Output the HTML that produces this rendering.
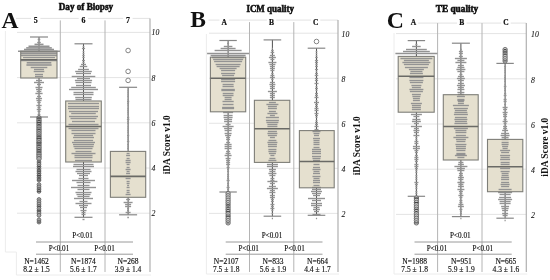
<!DOCTYPE html>
<html><head><meta charset="utf-8"><title>iDA Score</title>
<style>
html,body{margin:0;padding:0;background:#fff;}
body{width:550px;height:280px;overflow:hidden;}
svg{display:block;}
svg text{font-family:'Liberation Serif', 'Times New Roman', serif;fill:#111;}
</style></head><body>
<svg width="550" height="280" viewBox="0 0 550 280">
<rect width="550" height="280" fill="#fff"/>
<polyline points="5.4,31 5.4,252 16.4,252 16.4,275 151,275" fill="none" stroke="#ececec" stroke-width="1"/>
<line x1="17" y1="32.4" x2="150" y2="32.4" stroke="#e4e4e4" stroke-width="1" />
<line x1="17" y1="77.6" x2="150" y2="77.6" stroke="#e4e4e4" stroke-width="1" />
<line x1="17" y1="122.80000000000001" x2="150" y2="122.80000000000001" stroke="#e4e4e4" stroke-width="1" />
<line x1="17" y1="168.00000000000003" x2="150" y2="168.00000000000003" stroke="#e4e4e4" stroke-width="1" />
<line x1="17" y1="213.20000000000002" x2="150" y2="213.20000000000002" stroke="#e4e4e4" stroke-width="1" />
<line x1="16" y1="18.4" x2="150" y2="18.4" stroke="#e2e2e2" stroke-width="1" />
<line x1="60.3" y1="20.4" x2="60.3" y2="272" stroke="#b4b4b4" stroke-width="1" />
<line x1="105" y1="20.4" x2="105" y2="272" stroke="#b4b4b4" stroke-width="1" />
<line x1="150" y1="18.4" x2="150" y2="272" stroke="#b0b0b0" stroke-width="1.2" />
<rect x="20.7" y="51.2" width="36.3" height="26.799999999999997" fill="#e5e0cf" stroke="none"/>
<line x1="39.0" y1="37" x2="39.0" y2="51.2" stroke="#505050" stroke-width="1" />
<line x1="39.0" y1="78" x2="39.0" y2="117" stroke="#505050" stroke-width="1" />
<line x1="37.70" y1="39.50" x2="40.30" y2="39.50" stroke="#939393" stroke-width="1.4"/>
<line x1="37.20" y1="42.50" x2="40.80" y2="42.50" stroke="#939393" stroke-width="1.4"/>
<line x1="34.50" y1="44.40" x2="43.50" y2="44.40" stroke="#939393" stroke-width="1.6"/>
<line x1="28.50" y1="46.30" x2="49.50" y2="46.30" stroke="#939393" stroke-width="1.6"/>
<line x1="26.20" y1="47.90" x2="51.80" y2="47.90" stroke="#939393" stroke-width="1.6"/>
<line x1="24.00" y1="49.50" x2="54.00" y2="49.50" stroke="#939393" stroke-width="1.6"/>
<line x1="18.00" y1="51.30" x2="60.00" y2="51.30" stroke="#939393" stroke-width="1.6"/>
<line x1="21.00" y1="53.20" x2="57.00" y2="53.20" stroke="#939393" stroke-width="1.8"/>
<line x1="21.00" y1="55.40" x2="57.00" y2="55.40" stroke="#939393" stroke-width="1.8"/>
<line x1="23.00" y1="57.60" x2="55.00" y2="57.60" stroke="#939393" stroke-width="1.2"/>
<line x1="21.00" y1="60.50" x2="57.00" y2="60.50" stroke="#939393" stroke-width="1.4"/>
<line x1="26.70" y1="62.80" x2="51.30" y2="62.80" stroke="#939393" stroke-width="1.6"/>
<line x1="26.40" y1="65.00" x2="51.60" y2="65.00" stroke="#939393" stroke-width="1.6"/>
<line x1="30.70" y1="67.50" x2="47.30" y2="67.50" stroke="#939393" stroke-width="1.4"/>
<line x1="34.00" y1="69.50" x2="44.00" y2="69.50" stroke="#939393" stroke-width="1.4"/>
<line x1="33.70" y1="71.50" x2="44.30" y2="71.50" stroke="#939393" stroke-width="1.4"/>
<line x1="35.00" y1="74.50" x2="43.00" y2="74.50" stroke="#939393" stroke-width="1.4"/>
<line x1="35.00" y1="76.50" x2="43.00" y2="76.50" stroke="#939393" stroke-width="1.4"/>
<line x1="36.00" y1="80.50" x2="42.00" y2="80.50" stroke="#939393" stroke-width="1.4"/>
<line x1="34.00" y1="82.50" x2="44.00" y2="82.50" stroke="#939393" stroke-width="1.4"/>
<line x1="37.00" y1="84.50" x2="41.00" y2="84.50" stroke="#939393" stroke-width="1.4"/>
<line x1="35.50" y1="87.50" x2="42.50" y2="87.50" stroke="#939393" stroke-width="1.4"/>
<line x1="36.09" y1="89.50" x2="41.91" y2="89.50" stroke="#939393" stroke-width="1.4"/>
<line x1="36.67" y1="91.50" x2="41.33" y2="91.50" stroke="#939393" stroke-width="1.4"/>
<line x1="35.41" y1="93.50" x2="42.59" y2="93.50" stroke="#939393" stroke-width="1.4"/>
<line x1="37.04" y1="96.50" x2="40.96" y2="96.50" stroke="#939393" stroke-width="1.4"/>
<line x1="35.96" y1="98.50" x2="42.04" y2="98.50" stroke="#939393" stroke-width="1.4"/>
<line x1="36.49" y1="100.50" x2="41.51" y2="100.50" stroke="#939393" stroke-width="1.4"/>
<line x1="37.29" y1="102.50" x2="40.71" y2="102.50" stroke="#939393" stroke-width="1.4"/>
<line x1="36.38" y1="105.50" x2="41.62" y2="105.50" stroke="#939393" stroke-width="1.4"/>
<line x1="37.48" y1="107.50" x2="40.52" y2="107.50" stroke="#939393" stroke-width="1.4"/>
<line x1="36.76" y1="109.50" x2="41.24" y2="109.50" stroke="#939393" stroke-width="1.4"/>
<line x1="37.56" y1="111.50" x2="40.44" y2="111.50" stroke="#939393" stroke-width="1.4"/>
<line x1="37.60" y1="114.50" x2="40.40" y2="114.50" stroke="#939393" stroke-width="1.4"/>
<rect x="20.7" y="51.2" width="36.3" height="26.799999999999997" fill="none" stroke="#7e7e78" stroke-width="1.1"/>
<line x1="20.7" y1="59.8" x2="57" y2="59.8" stroke="#6a6a66" stroke-width="1.6" />
<line x1="30.0" y1="37" x2="48.0" y2="37" stroke="#878787" stroke-width="1.2" />
<line x1="30.0" y1="117" x2="48.0" y2="117" stroke="#878787" stroke-width="1.2" />
<circle cx="39.0" cy="118.00" r="2.3" fill="#a8a8a8" stroke="#5a5a5a" stroke-width="0.8"/>
<circle cx="39.0" cy="120.26" r="2.3" fill="#a8a8a8" stroke="#5a5a5a" stroke-width="0.8"/>
<circle cx="39.0" cy="122.52" r="2.3" fill="#a8a8a8" stroke="#5a5a5a" stroke-width="0.8"/>
<circle cx="39.0" cy="124.78" r="2.3" fill="#a8a8a8" stroke="#5a5a5a" stroke-width="0.8"/>
<circle cx="39.0" cy="127.04" r="2.3" fill="#a8a8a8" stroke="#5a5a5a" stroke-width="0.8"/>
<circle cx="39.0" cy="129.30" r="2.3" fill="#a8a8a8" stroke="#5a5a5a" stroke-width="0.8"/>
<circle cx="39.0" cy="131.56" r="2.3" fill="#a8a8a8" stroke="#5a5a5a" stroke-width="0.8"/>
<circle cx="39.0" cy="133.82" r="2.3" fill="#a8a8a8" stroke="#5a5a5a" stroke-width="0.8"/>
<circle cx="39.0" cy="136.08" r="2.3" fill="#a8a8a8" stroke="#5a5a5a" stroke-width="0.8"/>
<circle cx="39.0" cy="138.34" r="2.3" fill="#a8a8a8" stroke="#5a5a5a" stroke-width="0.8"/>
<circle cx="39.0" cy="140.60" r="2.3" fill="#a8a8a8" stroke="#5a5a5a" stroke-width="0.8"/>
<circle cx="39.0" cy="142.86" r="2.3" fill="#a8a8a8" stroke="#5a5a5a" stroke-width="0.8"/>
<circle cx="39.0" cy="145.12" r="2.3" fill="#a8a8a8" stroke="#5a5a5a" stroke-width="0.8"/>
<circle cx="39.0" cy="147.38" r="2.3" fill="#a8a8a8" stroke="#5a5a5a" stroke-width="0.8"/>
<circle cx="39.0" cy="149.64" r="2.3" fill="#a8a8a8" stroke="#5a5a5a" stroke-width="0.8"/>
<circle cx="39.0" cy="151.90" r="2.3" fill="#a8a8a8" stroke="#5a5a5a" stroke-width="0.8"/>
<circle cx="39.0" cy="154.16" r="2.3" fill="#a8a8a8" stroke="#5a5a5a" stroke-width="0.8"/>
<circle cx="39.0" cy="156.42" r="2.3" fill="#a8a8a8" stroke="#5a5a5a" stroke-width="0.8"/>
<circle cx="39.0" cy="158.68" r="2.3" fill="#a8a8a8" stroke="#5a5a5a" stroke-width="0.8"/>
<line x1="37.29" y1="118.00" x2="40.71" y2="118.00" stroke="#444" stroke-width="1"/>
<line x1="37.92" y1="120.26" x2="40.08" y2="120.26" stroke="#444" stroke-width="1"/>
<line x1="37.12" y1="122.52" x2="40.88" y2="122.52" stroke="#444" stroke-width="1"/>
<line x1="37.59" y1="124.78" x2="40.41" y2="124.78" stroke="#444" stroke-width="1"/>
<line x1="37.61" y1="129.30" x2="40.39" y2="129.30" stroke="#444" stroke-width="1"/>
<line x1="37.25" y1="136.08" x2="40.75" y2="136.08" stroke="#444" stroke-width="1"/>
<line x1="36.86" y1="138.34" x2="41.14" y2="138.34" stroke="#444" stroke-width="1"/>
<line x1="36.73" y1="142.86" x2="41.27" y2="142.86" stroke="#444" stroke-width="1"/>
<line x1="37.46" y1="145.12" x2="40.54" y2="145.12" stroke="#444" stroke-width="1"/>
<line x1="37.36" y1="149.64" x2="40.64" y2="149.64" stroke="#444" stroke-width="1"/>
<line x1="37.13" y1="151.90" x2="40.87" y2="151.90" stroke="#444" stroke-width="1"/>
<circle cx="39.0" cy="162.00" r="1.9" fill="#a8a8a8" stroke="#5a5a5a" stroke-width="0.8"/>
<circle cx="39.0" cy="164.26" r="1.9" fill="#a8a8a8" stroke="#5a5a5a" stroke-width="0.8"/>
<circle cx="39.0" cy="166.52" r="1.9" fill="#a8a8a8" stroke="#5a5a5a" stroke-width="0.8"/>
<circle cx="39.0" cy="168.78" r="1.9" fill="#a8a8a8" stroke="#5a5a5a" stroke-width="0.8"/>
<circle cx="39.0" cy="171.04" r="1.9" fill="#a8a8a8" stroke="#5a5a5a" stroke-width="0.8"/>
<circle cx="39.0" cy="173.30" r="1.9" fill="#a8a8a8" stroke="#5a5a5a" stroke-width="0.8"/>
<circle cx="39.0" cy="175.56" r="1.9" fill="#a8a8a8" stroke="#5a5a5a" stroke-width="0.8"/>
<circle cx="39.0" cy="177.82" r="1.9" fill="#a8a8a8" stroke="#5a5a5a" stroke-width="0.8"/>
<circle cx="39.0" cy="180.08" r="1.9" fill="#a8a8a8" stroke="#5a5a5a" stroke-width="0.8"/>
<circle cx="39.0" cy="184.60" r="1.9" fill="#a8a8a8" stroke="#5a5a5a" stroke-width="0.8"/>
<circle cx="39.0" cy="186.86" r="1.9" fill="#a8a8a8" stroke="#5a5a5a" stroke-width="0.8"/>
<circle cx="39.0" cy="189.12" r="1.9" fill="#a8a8a8" stroke="#5a5a5a" stroke-width="0.8"/>
<circle cx="39.0" cy="191.38" r="1.9" fill="#a8a8a8" stroke="#5a5a5a" stroke-width="0.8"/>
<line x1="37.65" y1="162.00" x2="40.35" y2="162.00" stroke="#444" stroke-width="1"/>
<line x1="37.58" y1="166.52" x2="40.42" y2="166.52" stroke="#444" stroke-width="1"/>
<line x1="37.89" y1="168.78" x2="40.11" y2="168.78" stroke="#444" stroke-width="1"/>
<line x1="37.31" y1="171.04" x2="40.69" y2="171.04" stroke="#444" stroke-width="1"/>
<line x1="37.78" y1="173.30" x2="40.22" y2="173.30" stroke="#444" stroke-width="1"/>
<line x1="37.22" y1="175.56" x2="40.78" y2="175.56" stroke="#444" stroke-width="1"/>
<line x1="37.60" y1="177.82" x2="40.40" y2="177.82" stroke="#444" stroke-width="1"/>
<line x1="37.20" y1="180.08" x2="40.80" y2="180.08" stroke="#444" stroke-width="1"/>
<line x1="37.63" y1="189.12" x2="40.37" y2="189.12" stroke="#444" stroke-width="1"/>
<line x1="37.20" y1="191.38" x2="40.80" y2="191.38" stroke="#444" stroke-width="1"/>
<circle cx="39.0" cy="199.50" r="1.9" fill="#a8a8a8" stroke="#5a5a5a" stroke-width="0.8"/>
<circle cx="39.0" cy="201.76" r="1.9" fill="#a8a8a8" stroke="#5a5a5a" stroke-width="0.8"/>
<circle cx="39.0" cy="204.02" r="1.9" fill="#a8a8a8" stroke="#5a5a5a" stroke-width="0.8"/>
<circle cx="39.0" cy="206.28" r="1.9" fill="#a8a8a8" stroke="#5a5a5a" stroke-width="0.8"/>
<circle cx="39.0" cy="208.54" r="1.9" fill="#a8a8a8" stroke="#5a5a5a" stroke-width="0.8"/>
<circle cx="39.0" cy="210.80" r="1.9" fill="#a8a8a8" stroke="#5a5a5a" stroke-width="0.8"/>
<circle cx="39.0" cy="213.06" r="1.9" fill="#a8a8a8" stroke="#5a5a5a" stroke-width="0.8"/>
<circle cx="39.0" cy="215.32" r="1.9" fill="#a8a8a8" stroke="#5a5a5a" stroke-width="0.8"/>
<circle cx="39.0" cy="219.84" r="1.9" fill="#a8a8a8" stroke="#5a5a5a" stroke-width="0.8"/>
<circle cx="39.0" cy="222.10" r="1.9" fill="#a8a8a8" stroke="#5a5a5a" stroke-width="0.8"/>
<line x1="37.44" y1="206.28" x2="40.56" y2="206.28" stroke="#444" stroke-width="1"/>
<line x1="37.19" y1="210.80" x2="40.81" y2="210.80" stroke="#444" stroke-width="1"/>
<line x1="37.64" y1="222.10" x2="40.36" y2="222.10" stroke="#444" stroke-width="1"/>
<rect x="65.7" y="101" width="35.599999999999994" height="61" fill="#e5e0cf" stroke="none"/>
<line x1="83.5" y1="43.8" x2="83.5" y2="101" stroke="#505050" stroke-width="1" />
<line x1="83.5" y1="162" x2="83.5" y2="217.3" stroke="#505050" stroke-width="1" />
<line x1="81.00" y1="64.50" x2="86.00" y2="64.50" stroke="#939393" stroke-width="1.4"/>
<line x1="79.75" y1="66.50" x2="87.25" y2="66.50" stroke="#939393" stroke-width="1.4"/>
<line x1="78.10" y1="69.50" x2="88.90" y2="69.50" stroke="#939393" stroke-width="1.4"/>
<line x1="75.20" y1="71.50" x2="91.80" y2="71.50" stroke="#939393" stroke-width="1.4"/>
<line x1="76.00" y1="73.50" x2="91.00" y2="73.50" stroke="#939393" stroke-width="1.4"/>
<line x1="71.70" y1="76.50" x2="95.30" y2="76.50" stroke="#939393" stroke-width="1.4"/>
<line x1="77.00" y1="78.50" x2="90.00" y2="78.50" stroke="#939393" stroke-width="1.4"/>
<line x1="74.90" y1="80.50" x2="92.10" y2="80.50" stroke="#939393" stroke-width="1.4"/>
<line x1="75.50" y1="82.50" x2="91.50" y2="82.50" stroke="#939393" stroke-width="1.4"/>
<line x1="76.00" y1="85.50" x2="91.00" y2="85.50" stroke="#939393" stroke-width="1.4"/>
<line x1="71.20" y1="87.50" x2="95.80" y2="87.50" stroke="#939393" stroke-width="1.4"/>
<line x1="69.00" y1="89.50" x2="98.00" y2="89.50" stroke="#939393" stroke-width="1.4"/>
<line x1="73.50" y1="92.50" x2="93.50" y2="92.50" stroke="#939393" stroke-width="1.4"/>
<line x1="73.50" y1="94.50" x2="93.50" y2="94.50" stroke="#939393" stroke-width="1.4"/>
<line x1="75.20" y1="97.50" x2="91.80" y2="97.50" stroke="#939393" stroke-width="1.4"/>
<line x1="75.50" y1="99.50" x2="91.50" y2="99.50" stroke="#939393" stroke-width="1.4"/>
<line x1="68.00" y1="103.50" x2="99.00" y2="103.50" stroke="#939393" stroke-width="1.4"/>
<line x1="68.00" y1="106.50" x2="99.00" y2="106.50" stroke="#939393" stroke-width="1.4"/>
<line x1="68.00" y1="108.50" x2="99.00" y2="108.50" stroke="#939393" stroke-width="1.4"/>
<line x1="69.00" y1="111.50" x2="98.00" y2="111.50" stroke="#939393" stroke-width="1.4"/>
<line x1="71.20" y1="113.50" x2="95.80" y2="113.50" stroke="#939393" stroke-width="1.4"/>
<line x1="69.00" y1="116.50" x2="98.00" y2="116.50" stroke="#939393" stroke-width="1.4"/>
<line x1="70.50" y1="118.50" x2="96.50" y2="118.50" stroke="#939393" stroke-width="1.4"/>
<line x1="72.00" y1="121.50" x2="95.00" y2="121.50" stroke="#939393" stroke-width="1.4"/>
<line x1="68.50" y1="124.50" x2="98.50" y2="124.50" stroke="#939393" stroke-width="1.4"/>
<line x1="68.50" y1="128.50" x2="98.50" y2="128.50" stroke="#939393" stroke-width="1.4"/>
<line x1="71.50" y1="130.50" x2="95.50" y2="130.50" stroke="#939393" stroke-width="1.4"/>
<line x1="71.50" y1="133.50" x2="95.50" y2="133.50" stroke="#939393" stroke-width="1.4"/>
<line x1="73.90" y1="135.50" x2="93.10" y2="135.50" stroke="#939393" stroke-width="1.4"/>
<line x1="73.00" y1="137.50" x2="94.00" y2="137.50" stroke="#939393" stroke-width="1.4"/>
<line x1="73.90" y1="140.50" x2="93.10" y2="140.50" stroke="#939393" stroke-width="1.4"/>
<line x1="72.00" y1="142.50" x2="95.00" y2="142.50" stroke="#939393" stroke-width="1.4"/>
<line x1="73.00" y1="144.50" x2="94.00" y2="144.50" stroke="#939393" stroke-width="1.4"/>
<line x1="73.50" y1="146.50" x2="93.50" y2="146.50" stroke="#939393" stroke-width="1.4"/>
<line x1="74.50" y1="148.50" x2="92.50" y2="148.50" stroke="#939393" stroke-width="1.4"/>
<line x1="75.50" y1="151.50" x2="91.50" y2="151.50" stroke="#939393" stroke-width="1.4"/>
<line x1="71.50" y1="153.50" x2="95.50" y2="153.50" stroke="#939393" stroke-width="1.4"/>
<line x1="74.50" y1="155.50" x2="92.50" y2="155.50" stroke="#939393" stroke-width="1.4"/>
<line x1="74.50" y1="157.50" x2="92.50" y2="157.50" stroke="#939393" stroke-width="1.4"/>
<line x1="75.00" y1="160.50" x2="92.00" y2="160.50" stroke="#939393" stroke-width="1.4"/>
<line x1="73.50" y1="164.50" x2="93.50" y2="164.50" stroke="#939393" stroke-width="1.4"/>
<line x1="73.00" y1="166.50" x2="94.00" y2="166.50" stroke="#939393" stroke-width="1.4"/>
<line x1="76.50" y1="169.50" x2="90.50" y2="169.50" stroke="#939393" stroke-width="1.4"/>
<line x1="75.50" y1="171.50" x2="91.50" y2="171.50" stroke="#939393" stroke-width="1.4"/>
<line x1="77.00" y1="173.50" x2="90.00" y2="173.50" stroke="#939393" stroke-width="1.4"/>
<line x1="79.00" y1="175.50" x2="88.00" y2="175.50" stroke="#939393" stroke-width="1.4"/>
<line x1="78.50" y1="178.50" x2="88.50" y2="178.50" stroke="#939393" stroke-width="1.4"/>
<line x1="72.00" y1="180.50" x2="95.00" y2="180.50" stroke="#939393" stroke-width="1.4"/>
<line x1="76.50" y1="182.50" x2="90.50" y2="182.50" stroke="#939393" stroke-width="1.4"/>
<line x1="77.50" y1="185.50" x2="89.50" y2="185.50" stroke="#939393" stroke-width="1.4"/>
<line x1="71.00" y1="187.50" x2="96.00" y2="187.50" stroke="#939393" stroke-width="1.4"/>
<line x1="77.50" y1="189.50" x2="89.50" y2="189.50" stroke="#939393" stroke-width="1.4"/>
<line x1="75.50" y1="192.50" x2="91.50" y2="192.50" stroke="#939393" stroke-width="1.4"/>
<line x1="76.50" y1="194.50" x2="90.50" y2="194.50" stroke="#939393" stroke-width="1.4"/>
<line x1="77.50" y1="196.50" x2="89.50" y2="196.50" stroke="#939393" stroke-width="1.4"/>
<line x1="74.00" y1="198.50" x2="93.00" y2="198.50" stroke="#939393" stroke-width="1.4"/>
<line x1="79.50" y1="201.50" x2="87.50" y2="201.50" stroke="#939393" stroke-width="1.4"/>
<line x1="75.50" y1="203.50" x2="91.50" y2="203.50" stroke="#939393" stroke-width="1.4"/>
<line x1="79.00" y1="205.50" x2="88.00" y2="205.50" stroke="#939393" stroke-width="1.4"/>
<line x1="80.00" y1="207.50" x2="87.00" y2="207.50" stroke="#939393" stroke-width="1.4"/>
<line x1="80.50" y1="210.50" x2="86.50" y2="210.50" stroke="#939393" stroke-width="1.4"/>
<line x1="81.50" y1="212.50" x2="85.50" y2="212.50" stroke="#939393" stroke-width="1.4"/>
<line x1="81.50" y1="214.50" x2="85.50" y2="214.50" stroke="#939393" stroke-width="1.4"/>
<line x1="82.50" y1="219.50" x2="84.50" y2="219.50" stroke="#939393" stroke-width="1.4"/>
<line x1="82.61" y1="46.50" x2="84.39" y2="46.50" stroke="#939393" stroke-width="1.4"/>
<line x1="81.94" y1="48.50" x2="85.06" y2="48.50" stroke="#939393" stroke-width="1.4"/>
<line x1="82.58" y1="51.50" x2="84.42" y2="51.50" stroke="#939393" stroke-width="1.4"/>
<line x1="82.53" y1="53.50" x2="84.47" y2="53.50" stroke="#939393" stroke-width="1.4"/>
<line x1="82.29" y1="55.50" x2="84.71" y2="55.50" stroke="#939393" stroke-width="1.4"/>
<line x1="82.31" y1="57.50" x2="84.69" y2="57.50" stroke="#939393" stroke-width="1.4"/>
<line x1="82.00" y1="60.50" x2="85.00" y2="60.50" stroke="#939393" stroke-width="1.4"/>
<line x1="82.38" y1="62.50" x2="84.62" y2="62.50" stroke="#939393" stroke-width="1.4"/>
<rect x="65.7" y="101" width="35.599999999999994" height="61" fill="none" stroke="#7e7e78" stroke-width="1.1"/>
<line x1="65.7" y1="126.5" x2="101.3" y2="126.5" stroke="#6a6a66" stroke-width="1.6" />
<line x1="74.5" y1="43.8" x2="92.5" y2="43.8" stroke="#878787" stroke-width="1.2" />
<line x1="74.5" y1="217.3" x2="92.5" y2="217.3" stroke="#878787" stroke-width="1.2" />
<rect x="110.4" y="151.4" width="35.29999999999998" height="45.900000000000006" fill="#e5e0cf" stroke="none"/>
<line x1="128.1" y1="87.3" x2="128.1" y2="151.4" stroke="#505050" stroke-width="1" />
<line x1="128.1" y1="197.3" x2="128.1" y2="214.8" stroke="#505050" stroke-width="1" />
<line x1="126.60" y1="153.50" x2="129.60" y2="153.50" stroke="#939393" stroke-width="1.4"/>
<line x1="126.10" y1="155.50" x2="130.10" y2="155.50" stroke="#939393" stroke-width="1.4"/>
<line x1="126.60" y1="158.50" x2="129.60" y2="158.50" stroke="#939393" stroke-width="1.4"/>
<line x1="125.60" y1="160.50" x2="130.60" y2="160.50" stroke="#939393" stroke-width="1.4"/>
<line x1="125.60" y1="162.50" x2="130.60" y2="162.50" stroke="#939393" stroke-width="1.4"/>
<line x1="126.60" y1="164.50" x2="129.60" y2="164.50" stroke="#939393" stroke-width="1.4"/>
<line x1="126.60" y1="167.50" x2="129.60" y2="167.50" stroke="#939393" stroke-width="1.4"/>
<line x1="125.60" y1="169.50" x2="130.60" y2="169.50" stroke="#939393" stroke-width="1.4"/>
<line x1="126.60" y1="171.50" x2="129.60" y2="171.50" stroke="#939393" stroke-width="1.4"/>
<line x1="126.10" y1="173.50" x2="130.10" y2="173.50" stroke="#939393" stroke-width="1.4"/>
<line x1="125.60" y1="178.50" x2="130.60" y2="178.50" stroke="#939393" stroke-width="1.4"/>
<line x1="126.60" y1="181.50" x2="129.60" y2="181.50" stroke="#939393" stroke-width="1.4"/>
<line x1="126.60" y1="183.50" x2="129.60" y2="183.50" stroke="#939393" stroke-width="1.4"/>
<line x1="127.10" y1="185.50" x2="129.10" y2="185.50" stroke="#939393" stroke-width="1.4"/>
<line x1="126.60" y1="187.50" x2="129.60" y2="187.50" stroke="#939393" stroke-width="1.4"/>
<line x1="126.60" y1="190.50" x2="129.60" y2="190.50" stroke="#939393" stroke-width="1.4"/>
<line x1="126.60" y1="192.50" x2="129.60" y2="192.50" stroke="#939393" stroke-width="1.4"/>
<line x1="125.60" y1="194.50" x2="130.60" y2="194.50" stroke="#939393" stroke-width="1.4"/>
<line x1="126.10" y1="199.50" x2="130.10" y2="199.50" stroke="#939393" stroke-width="1.4"/>
<line x1="123.60" y1="202.50" x2="132.60" y2="202.50" stroke="#939393" stroke-width="1.4"/>
<line x1="125.10" y1="204.50" x2="131.10" y2="204.50" stroke="#939393" stroke-width="1.4"/>
<line x1="125.10" y1="206.50" x2="131.10" y2="206.50" stroke="#939393" stroke-width="1.4"/>
<line x1="127.10" y1="208.50" x2="129.10" y2="208.50" stroke="#939393" stroke-width="1.4"/>
<line x1="127.10" y1="210.50" x2="129.10" y2="210.50" stroke="#939393" stroke-width="1.4"/>
<line x1="125.60" y1="212.50" x2="130.60" y2="212.50" stroke="#939393" stroke-width="1.4"/>
<line x1="127.30" y1="217.50" x2="128.90" y2="217.50" stroke="#939393" stroke-width="1.4"/>
<line x1="127.60" y1="90.50" x2="128.60" y2="90.50" stroke="#939393" stroke-width="1.4"/>
<line x1="127.50" y1="92.50" x2="128.70" y2="92.50" stroke="#939393" stroke-width="1.4"/>
<line x1="127.53" y1="94.50" x2="128.67" y2="94.50" stroke="#939393" stroke-width="1.4"/>
<line x1="127.34" y1="96.50" x2="128.86" y2="96.50" stroke="#939393" stroke-width="1.4"/>
<line x1="127.59" y1="99.50" x2="128.61" y2="99.50" stroke="#939393" stroke-width="1.4"/>
<line x1="126.98" y1="101.50" x2="129.22" y2="101.50" stroke="#939393" stroke-width="1.4"/>
<line x1="127.16" y1="103.50" x2="129.04" y2="103.50" stroke="#939393" stroke-width="1.4"/>
<line x1="127.50" y1="105.50" x2="128.70" y2="105.50" stroke="#939393" stroke-width="1.4"/>
<line x1="127.42" y1="108.50" x2="128.78" y2="108.50" stroke="#939393" stroke-width="1.4"/>
<line x1="127.35" y1="110.50" x2="128.85" y2="110.50" stroke="#939393" stroke-width="1.4"/>
<line x1="127.34" y1="112.50" x2="128.86" y2="112.50" stroke="#939393" stroke-width="1.4"/>
<line x1="127.52" y1="114.50" x2="128.68" y2="114.50" stroke="#939393" stroke-width="1.4"/>
<line x1="126.99" y1="117.50" x2="129.21" y2="117.50" stroke="#939393" stroke-width="1.4"/>
<line x1="126.89" y1="119.50" x2="129.31" y2="119.50" stroke="#939393" stroke-width="1.4"/>
<line x1="127.27" y1="121.50" x2="128.93" y2="121.50" stroke="#939393" stroke-width="1.4"/>
<line x1="127.26" y1="123.50" x2="128.94" y2="123.50" stroke="#939393" stroke-width="1.4"/>
<line x1="127.54" y1="126.50" x2="128.66" y2="126.50" stroke="#939393" stroke-width="1.4"/>
<line x1="127.53" y1="128.50" x2="128.67" y2="128.50" stroke="#939393" stroke-width="1.4"/>
<line x1="127.36" y1="130.50" x2="128.84" y2="130.50" stroke="#939393" stroke-width="1.4"/>
<line x1="127.41" y1="132.50" x2="128.79" y2="132.50" stroke="#939393" stroke-width="1.4"/>
<line x1="127.01" y1="135.50" x2="129.19" y2="135.50" stroke="#939393" stroke-width="1.4"/>
<line x1="127.49" y1="137.50" x2="128.71" y2="137.50" stroke="#939393" stroke-width="1.4"/>
<line x1="127.59" y1="139.50" x2="128.61" y2="139.50" stroke="#939393" stroke-width="1.4"/>
<line x1="126.92" y1="141.50" x2="129.28" y2="141.50" stroke="#939393" stroke-width="1.4"/>
<line x1="127.22" y1="144.50" x2="128.98" y2="144.50" stroke="#939393" stroke-width="1.4"/>
<line x1="127.50" y1="146.50" x2="128.70" y2="146.50" stroke="#939393" stroke-width="1.4"/>
<line x1="127.21" y1="148.50" x2="128.99" y2="148.50" stroke="#939393" stroke-width="1.4"/>
<rect x="110.4" y="151.4" width="35.29999999999998" height="45.900000000000006" fill="none" stroke="#7e7e78" stroke-width="1.1"/>
<line x1="110.4" y1="176.4" x2="145.7" y2="176.4" stroke="#6a6a66" stroke-width="1.6" />
<line x1="119.1" y1="87.3" x2="137.1" y2="87.3" stroke="#878787" stroke-width="1.2" />
<line x1="119.1" y1="214.8" x2="137.1" y2="214.8" stroke="#878787" stroke-width="1.2" />
<circle cx="128.1" cy="50.5" r="2.3" fill="#fff" stroke="#777" stroke-width="0.9"/>
<circle cx="128.1" cy="71.4" r="2.3" fill="#fff" stroke="#777" stroke-width="0.9"/>
<circle cx="128.1" cy="80.4" r="2.3" fill="#fff" stroke="#777" stroke-width="0.9"/>
<rect x="31.000000000000004" y="16.9" width="9.4" height="3" fill="#fff"/>
<text x="35.7" y="22.6" font-size="7.9" font-weight="bold" font-style="normal" text-anchor="middle" stroke="#111" stroke-width="0.2">5</text>
<rect x="78.7" y="16.9" width="9.4" height="3" fill="#fff"/>
<text x="83.4" y="22.6" font-size="7.9" font-weight="bold" font-style="normal" text-anchor="middle" stroke="#111" stroke-width="0.2">6</text>
<rect x="123.2" y="16.9" width="9.4" height="3" fill="#fff"/>
<text x="127.9" y="22.6" font-size="7.9" font-weight="bold" font-style="normal" text-anchor="middle" stroke="#111" stroke-width="0.2">7</text>
<text x="151.6" y="35.3" font-size="7.8" font-weight="normal" font-style="italic" text-anchor="start" stroke="#222" stroke-width="0.08">10</text>
<text x="151.6" y="80.5" font-size="7.8" font-weight="normal" font-style="italic" text-anchor="start" stroke="#222" stroke-width="0.08">8</text>
<text x="151.6" y="125.7" font-size="7.8" font-weight="normal" font-style="italic" text-anchor="start" stroke="#222" stroke-width="0.08">6</text>
<text x="151.6" y="170.9" font-size="7.8" font-weight="normal" font-style="italic" text-anchor="start" stroke="#222" stroke-width="0.08">4</text>
<text x="151.6" y="216.1" font-size="7.8" font-weight="normal" font-style="italic" text-anchor="start" stroke="#222" stroke-width="0.08">2</text>
<text x="0" y="0" font-size="11.2" font-weight="bold" text-anchor="middle" textLength="59" lengthAdjust="spacingAndGlyphs" transform="translate(169.5,144.8) rotate(-90)">iDA Score v1.0</text>
<text x="1.4" y="27.8" font-size="23.5" font-weight="bold" font-style="normal" text-anchor="start" >A</text>
<text x="85.9" y="9.7" font-size="9.8" font-weight="bold" font-style="normal" text-anchor="middle" textLength="54.3" lengthAdjust="spacingAndGlyphs" stroke="#111" stroke-width="0.55">Day of Biopsy</text>
<line x1="36" y1="242" x2="133" y2="242" stroke="#9a9a9a" stroke-width="1" />
<line x1="36" y1="254.2" x2="133" y2="254.2" stroke="#9a9a9a" stroke-width="1" />
<text x="82.5" y="238.4" font-size="7.6" font-weight="normal" font-style="normal" text-anchor="middle" textLength="20.5" lengthAdjust="spacingAndGlyphs" stroke="#111" stroke-width="0.15">P&lt;0.01</text>
<text x="59" y="250.9" font-size="7.6" font-weight="normal" font-style="normal" text-anchor="middle" textLength="20.5" lengthAdjust="spacingAndGlyphs" stroke="#111" stroke-width="0.15">P&lt;0.01</text>
<text x="104.5" y="250.9" font-size="7.6" font-weight="normal" font-style="normal" text-anchor="middle" textLength="20.5" lengthAdjust="spacingAndGlyphs" stroke="#111" stroke-width="0.15">P&lt;0.01</text>
<text x="36.5" y="263.8" font-size="7.5" font-weight="normal" font-style="normal" text-anchor="middle" stroke="#111" stroke-width="0.15">N=1462</text>
<text x="36.5" y="272.0" font-size="7.5" font-weight="normal" font-style="normal" text-anchor="middle" stroke="#111" stroke-width="0.15">8.2 ± 1.5</text>
<text x="83.4" y="263.8" font-size="7.5" font-weight="normal" font-style="normal" text-anchor="middle" stroke="#111" stroke-width="0.15">N=1874</text>
<text x="83.4" y="272.0" font-size="7.5" font-weight="normal" font-style="normal" text-anchor="middle" stroke="#111" stroke-width="0.15">5.6 ± 1.7</text>
<text x="128" y="263.8" font-size="7.5" font-weight="normal" font-style="normal" text-anchor="middle" stroke="#111" stroke-width="0.15">N=268</text>
<text x="128" y="272.0" font-size="7.5" font-weight="normal" font-style="normal" text-anchor="middle" stroke="#111" stroke-width="0.15">3.9 ± 1.4</text>
<polyline points="206.4,34 206.4,274 339,274" fill="none" stroke="#ececec" stroke-width="1"/>
<line x1="209" y1="33.2" x2="338" y2="33.2" stroke="#e4e4e4" stroke-width="1" />
<line x1="209" y1="78.24000000000001" x2="338" y2="78.24000000000001" stroke="#e4e4e4" stroke-width="1" />
<line x1="209" y1="123.28" x2="338" y2="123.28" stroke="#e4e4e4" stroke-width="1" />
<line x1="209" y1="168.32" x2="338" y2="168.32" stroke="#e4e4e4" stroke-width="1" />
<line x1="209" y1="213.36" x2="338" y2="213.36" stroke="#e4e4e4" stroke-width="1" />
<line x1="208.5" y1="20.1" x2="338" y2="20.1" stroke="#e2e2e2" stroke-width="1" />
<line x1="249.5" y1="22.1" x2="249.5" y2="272" stroke="#b4b4b4" stroke-width="1" />
<line x1="293.8" y1="22.1" x2="293.8" y2="272" stroke="#b4b4b4" stroke-width="1" />
<line x1="338" y1="20.1" x2="338" y2="272" stroke="#b0b0b0" stroke-width="1.2" />
<rect x="210.4" y="57.2" width="35.29999999999998" height="54.599999999999994" fill="#e5e0cf" stroke="none"/>
<line x1="228.1" y1="40.5" x2="228.1" y2="57.2" stroke="#505050" stroke-width="1" />
<line x1="228.1" y1="111.8" x2="228.1" y2="192" stroke="#505050" stroke-width="1" />
<line x1="227.10" y1="43.50" x2="229.10" y2="43.50" stroke="#939393" stroke-width="1.4"/>
<line x1="223.80" y1="46.50" x2="232.40" y2="46.50" stroke="#939393" stroke-width="1.4"/>
<line x1="220.60" y1="48.50" x2="235.60" y2="48.50" stroke="#939393" stroke-width="1.4"/>
<line x1="214.60" y1="50.50" x2="241.60" y2="50.50" stroke="#939393" stroke-width="1.4"/>
<line x1="207.10" y1="53.50" x2="249.10" y2="53.50" stroke="#939393" stroke-width="1.4"/>
<line x1="210.60" y1="55.50" x2="245.60" y2="55.50" stroke="#939393" stroke-width="1.4"/>
<line x1="212.10" y1="57.50" x2="244.10" y2="57.50" stroke="#939393" stroke-width="1.4"/>
<line x1="213.10" y1="59.50" x2="243.10" y2="59.50" stroke="#939393" stroke-width="1.4"/>
<line x1="214.10" y1="61.50" x2="242.10" y2="61.50" stroke="#939393" stroke-width="1.4"/>
<line x1="215.60" y1="64.50" x2="240.60" y2="64.50" stroke="#939393" stroke-width="1.4"/>
<line x1="216.60" y1="66.50" x2="239.60" y2="66.50" stroke="#939393" stroke-width="1.4"/>
<line x1="219.60" y1="68.50" x2="236.60" y2="68.50" stroke="#939393" stroke-width="1.4"/>
<line x1="221.10" y1="70.50" x2="235.10" y2="70.50" stroke="#939393" stroke-width="1.4"/>
<line x1="221.10" y1="73.50" x2="235.10" y2="73.50" stroke="#939393" stroke-width="1.4"/>
<line x1="222.10" y1="75.50" x2="234.10" y2="75.50" stroke="#939393" stroke-width="1.4"/>
<line x1="221.10" y1="79.50" x2="235.10" y2="79.50" stroke="#939393" stroke-width="1.4"/>
<line x1="221.10" y1="81.50" x2="235.10" y2="81.50" stroke="#939393" stroke-width="1.4"/>
<line x1="222.60" y1="84.50" x2="233.60" y2="84.50" stroke="#939393" stroke-width="1.4"/>
<line x1="222.50" y1="86.50" x2="233.70" y2="86.50" stroke="#939393" stroke-width="1.4"/>
<line x1="221.40" y1="89.50" x2="234.80" y2="89.50" stroke="#939393" stroke-width="1.4"/>
<line x1="221.40" y1="90.50" x2="234.80" y2="90.50" stroke="#939393" stroke-width="1.4"/>
<line x1="222.70" y1="93.50" x2="233.50" y2="93.50" stroke="#939393" stroke-width="1.4"/>
<line x1="222.70" y1="95.50" x2="233.50" y2="95.50" stroke="#939393" stroke-width="1.4"/>
<line x1="224.60" y1="97.50" x2="231.60" y2="97.50" stroke="#939393" stroke-width="1.4"/>
<line x1="224.60" y1="99.50" x2="231.60" y2="99.50" stroke="#939393" stroke-width="1.4"/>
<line x1="222.50" y1="101.50" x2="233.70" y2="101.50" stroke="#939393" stroke-width="1.4"/>
<line x1="222.70" y1="104.50" x2="233.50" y2="104.50" stroke="#939393" stroke-width="1.4"/>
<line x1="222.10" y1="107.50" x2="234.10" y2="107.50" stroke="#939393" stroke-width="1.4"/>
<line x1="222.10" y1="108.50" x2="234.10" y2="108.50" stroke="#939393" stroke-width="1.4"/>
<line x1="223.10" y1="112.50" x2="233.10" y2="112.50" stroke="#939393" stroke-width="1.4"/>
<line x1="223.60" y1="115.50" x2="232.60" y2="115.50" stroke="#939393" stroke-width="1.4"/>
<line x1="223.60" y1="117.50" x2="232.60" y2="117.50" stroke="#939393" stroke-width="1.4"/>
<line x1="224.10" y1="119.50" x2="232.10" y2="119.50" stroke="#939393" stroke-width="1.4"/>
<line x1="224.10" y1="121.50" x2="232.10" y2="121.50" stroke="#939393" stroke-width="1.4"/>
<line x1="225.60" y1="124.50" x2="230.60" y2="124.50" stroke="#939393" stroke-width="1.4"/>
<line x1="222.60" y1="126.50" x2="233.60" y2="126.50" stroke="#939393" stroke-width="1.4"/>
<line x1="224.10" y1="128.50" x2="232.10" y2="128.50" stroke="#939393" stroke-width="1.4"/>
<line x1="224.60" y1="130.50" x2="231.60" y2="130.50" stroke="#939393" stroke-width="1.4"/>
<line x1="224.60" y1="133.50" x2="231.60" y2="133.50" stroke="#939393" stroke-width="1.4"/>
<line x1="225.10" y1="135.50" x2="231.10" y2="135.50" stroke="#939393" stroke-width="1.4"/>
<line x1="226.10" y1="137.50" x2="230.10" y2="137.50" stroke="#939393" stroke-width="1.4"/>
<line x1="226.10" y1="139.50" x2="230.10" y2="139.50" stroke="#939393" stroke-width="1.4"/>
<line x1="226.10" y1="142.50" x2="230.10" y2="142.50" stroke="#939393" stroke-width="1.4"/>
<line x1="224.60" y1="144.50" x2="231.60" y2="144.50" stroke="#939393" stroke-width="1.4"/>
<line x1="224.60" y1="146.50" x2="231.60" y2="146.50" stroke="#939393" stroke-width="1.4"/>
<line x1="224.60" y1="148.50" x2="231.60" y2="148.50" stroke="#939393" stroke-width="1.4"/>
<line x1="226.10" y1="151.50" x2="230.10" y2="151.50" stroke="#939393" stroke-width="1.4"/>
<line x1="225.60" y1="153.50" x2="230.60" y2="153.50" stroke="#939393" stroke-width="1.4"/>
<line x1="224.60" y1="155.50" x2="231.60" y2="155.50" stroke="#939393" stroke-width="1.4"/>
<line x1="225.60" y1="158.50" x2="230.60" y2="158.50" stroke="#939393" stroke-width="1.4"/>
<line x1="226.10" y1="160.50" x2="230.10" y2="160.50" stroke="#939393" stroke-width="1.4"/>
<line x1="226.10" y1="162.50" x2="230.10" y2="162.50" stroke="#939393" stroke-width="1.4"/>
<line x1="226.10" y1="164.50" x2="230.10" y2="164.50" stroke="#939393" stroke-width="1.4"/>
<line x1="226.60" y1="167.50" x2="229.60" y2="167.50" stroke="#939393" stroke-width="1.4"/>
<line x1="227.10" y1="169.50" x2="229.10" y2="169.50" stroke="#939393" stroke-width="1.4"/>
<line x1="227.10" y1="171.50" x2="229.10" y2="171.50" stroke="#939393" stroke-width="1.4"/>
<line x1="227.10" y1="174.50" x2="229.10" y2="174.50" stroke="#939393" stroke-width="1.4"/>
<line x1="227.10" y1="176.50" x2="229.10" y2="176.50" stroke="#939393" stroke-width="1.4"/>
<line x1="227.10" y1="178.50" x2="229.10" y2="178.50" stroke="#939393" stroke-width="1.4"/>
<line x1="226.60" y1="180.50" x2="229.60" y2="180.50" stroke="#939393" stroke-width="1.4"/>
<line x1="227.10" y1="183.50" x2="229.10" y2="183.50" stroke="#939393" stroke-width="1.4"/>
<line x1="227.10" y1="185.50" x2="229.10" y2="185.50" stroke="#939393" stroke-width="1.4"/>
<line x1="226.60" y1="187.50" x2="229.60" y2="187.50" stroke="#939393" stroke-width="1.4"/>
<line x1="227.10" y1="189.50" x2="229.10" y2="189.50" stroke="#939393" stroke-width="1.4"/>
<rect x="210.4" y="57.2" width="35.29999999999998" height="54.599999999999994" fill="none" stroke="#7e7e78" stroke-width="1.1"/>
<line x1="210.4" y1="78.2" x2="245.7" y2="78.2" stroke="#6a6a66" stroke-width="1.6" />
<line x1="219.4" y1="40.5" x2="236.79999999999998" y2="40.5" stroke="#878787" stroke-width="1.2" />
<line x1="219.4" y1="192" x2="236.79999999999998" y2="192" stroke="#878787" stroke-width="1.2" />
<circle cx="228.1" cy="193.50" r="2.2" fill="#c8c8c8" stroke="#5a5a5a" stroke-width="0.8"/>
<circle cx="228.1" cy="195.76" r="2.2" fill="#c8c8c8" stroke="#5a5a5a" stroke-width="0.8"/>
<circle cx="228.1" cy="198.02" r="2.2" fill="#c8c8c8" stroke="#5a5a5a" stroke-width="0.8"/>
<circle cx="228.1" cy="200.28" r="2.2" fill="#c8c8c8" stroke="#5a5a5a" stroke-width="0.8"/>
<circle cx="228.1" cy="202.54" r="2.2" fill="#c8c8c8" stroke="#5a5a5a" stroke-width="0.8"/>
<circle cx="228.1" cy="204.80" r="2.2" fill="#c8c8c8" stroke="#5a5a5a" stroke-width="0.8"/>
<circle cx="228.1" cy="207.06" r="2.2" fill="#c8c8c8" stroke="#5a5a5a" stroke-width="0.8"/>
<circle cx="228.1" cy="209.32" r="2.2" fill="#c8c8c8" stroke="#5a5a5a" stroke-width="0.8"/>
<circle cx="228.1" cy="211.58" r="2.2" fill="#c8c8c8" stroke="#5a5a5a" stroke-width="0.8"/>
<circle cx="228.1" cy="213.84" r="2.2" fill="#c8c8c8" stroke="#5a5a5a" stroke-width="0.8"/>
<circle cx="228.1" cy="216.10" r="2.2" fill="#c8c8c8" stroke="#5a5a5a" stroke-width="0.8"/>
<circle cx="228.1" cy="218.36" r="2.2" fill="#c8c8c8" stroke="#5a5a5a" stroke-width="0.8"/>
<circle cx="228.1" cy="220.62" r="2.2" fill="#c8c8c8" stroke="#5a5a5a" stroke-width="0.8"/>
<circle cx="228.1" cy="222.88" r="2.2" fill="#c8c8c8" stroke="#5a5a5a" stroke-width="0.8"/>
<line x1="226.48" y1="204.80" x2="229.72" y2="204.80" stroke="#444" stroke-width="1"/>
<line x1="227.07" y1="207.06" x2="229.13" y2="207.06" stroke="#444" stroke-width="1"/>
<line x1="226.76" y1="209.32" x2="229.44" y2="209.32" stroke="#444" stroke-width="1"/>
<line x1="226.27" y1="211.58" x2="229.93" y2="211.58" stroke="#444" stroke-width="1"/>
<line x1="225.98" y1="216.10" x2="230.22" y2="216.10" stroke="#444" stroke-width="1"/>
<line x1="226.84" y1="222.88" x2="229.36" y2="222.88" stroke="#444" stroke-width="1"/>
<rect x="254.4" y="100.3" width="35.400000000000006" height="62.10000000000001" fill="#e5e0cf" stroke="none"/>
<line x1="272.4" y1="39.9" x2="272.4" y2="100.3" stroke="#505050" stroke-width="1" />
<line x1="272.4" y1="162.4" x2="272.4" y2="216.2" stroke="#505050" stroke-width="1" />
<line x1="271.90" y1="48.50" x2="272.90" y2="48.50" stroke="#939393" stroke-width="1.4"/>
<line x1="271.10" y1="50.50" x2="273.70" y2="50.50" stroke="#939393" stroke-width="1.4"/>
<line x1="270.60" y1="52.50" x2="274.20" y2="52.50" stroke="#939393" stroke-width="1.4"/>
<line x1="269.90" y1="55.50" x2="274.90" y2="55.50" stroke="#939393" stroke-width="1.4"/>
<line x1="268.90" y1="57.50" x2="275.90" y2="57.50" stroke="#939393" stroke-width="1.4"/>
<line x1="270.40" y1="59.50" x2="274.40" y2="59.50" stroke="#939393" stroke-width="1.4"/>
<line x1="268.40" y1="62.50" x2="276.40" y2="62.50" stroke="#939393" stroke-width="1.4"/>
<line x1="269.40" y1="64.50" x2="275.40" y2="64.50" stroke="#939393" stroke-width="1.4"/>
<line x1="269.90" y1="66.50" x2="274.90" y2="66.50" stroke="#939393" stroke-width="1.4"/>
<line x1="269.90" y1="68.50" x2="274.90" y2="68.50" stroke="#939393" stroke-width="1.4"/>
<line x1="270.40" y1="70.50" x2="274.40" y2="70.50" stroke="#939393" stroke-width="1.4"/>
<line x1="271.20" y1="73.50" x2="273.60" y2="73.50" stroke="#939393" stroke-width="1.4"/>
<line x1="270.40" y1="75.50" x2="274.40" y2="75.50" stroke="#939393" stroke-width="1.4"/>
<line x1="269.90" y1="77.50" x2="274.90" y2="77.50" stroke="#939393" stroke-width="1.4"/>
<line x1="271.20" y1="79.50" x2="273.60" y2="79.50" stroke="#939393" stroke-width="1.4"/>
<line x1="269.90" y1="82.50" x2="274.90" y2="82.50" stroke="#939393" stroke-width="1.4"/>
<line x1="269.40" y1="84.50" x2="275.40" y2="84.50" stroke="#939393" stroke-width="1.4"/>
<line x1="269.90" y1="86.50" x2="274.90" y2="86.50" stroke="#939393" stroke-width="1.4"/>
<line x1="269.90" y1="88.50" x2="274.90" y2="88.50" stroke="#939393" stroke-width="1.4"/>
<line x1="267.90" y1="91.50" x2="276.90" y2="91.50" stroke="#939393" stroke-width="1.4"/>
<line x1="269.90" y1="93.50" x2="274.90" y2="93.50" stroke="#939393" stroke-width="1.4"/>
<line x1="269.90" y1="95.50" x2="274.90" y2="95.50" stroke="#939393" stroke-width="1.4"/>
<line x1="269.90" y1="97.50" x2="274.90" y2="97.50" stroke="#939393" stroke-width="1.4"/>
<line x1="268.90" y1="102.50" x2="275.90" y2="102.50" stroke="#939393" stroke-width="1.4"/>
<line x1="266.40" y1="104.50" x2="278.40" y2="104.50" stroke="#939393" stroke-width="1.4"/>
<line x1="267.90" y1="106.50" x2="276.90" y2="106.50" stroke="#939393" stroke-width="1.4"/>
<line x1="267.90" y1="108.50" x2="276.90" y2="108.50" stroke="#939393" stroke-width="1.4"/>
<line x1="268.90" y1="111.50" x2="275.90" y2="111.50" stroke="#939393" stroke-width="1.4"/>
<line x1="267.40" y1="113.50" x2="277.40" y2="113.50" stroke="#939393" stroke-width="1.4"/>
<line x1="269.90" y1="115.50" x2="274.90" y2="115.50" stroke="#939393" stroke-width="1.4"/>
<line x1="265.90" y1="117.50" x2="278.90" y2="117.50" stroke="#939393" stroke-width="1.4"/>
<line x1="265.90" y1="120.50" x2="278.90" y2="120.50" stroke="#939393" stroke-width="1.4"/>
<line x1="266.40" y1="122.50" x2="278.40" y2="122.50" stroke="#939393" stroke-width="1.4"/>
<line x1="267.40" y1="124.50" x2="277.40" y2="124.50" stroke="#939393" stroke-width="1.4"/>
<line x1="267.40" y1="126.50" x2="277.40" y2="126.50" stroke="#939393" stroke-width="1.4"/>
<line x1="267.90" y1="131.50" x2="276.90" y2="131.50" stroke="#939393" stroke-width="1.4"/>
<line x1="267.40" y1="133.50" x2="277.40" y2="133.50" stroke="#939393" stroke-width="1.4"/>
<line x1="267.90" y1="135.50" x2="276.90" y2="135.50" stroke="#939393" stroke-width="1.4"/>
<line x1="269.90" y1="137.50" x2="274.90" y2="137.50" stroke="#939393" stroke-width="1.4"/>
<line x1="268.40" y1="140.50" x2="276.40" y2="140.50" stroke="#939393" stroke-width="1.4"/>
<line x1="267.40" y1="142.50" x2="277.40" y2="142.50" stroke="#939393" stroke-width="1.4"/>
<line x1="267.90" y1="144.50" x2="276.90" y2="144.50" stroke="#939393" stroke-width="1.4"/>
<line x1="267.90" y1="146.50" x2="276.90" y2="146.50" stroke="#939393" stroke-width="1.4"/>
<line x1="268.40" y1="149.50" x2="276.40" y2="149.50" stroke="#939393" stroke-width="1.4"/>
<line x1="268.40" y1="151.50" x2="276.40" y2="151.50" stroke="#939393" stroke-width="1.4"/>
<line x1="268.90" y1="153.50" x2="275.90" y2="153.50" stroke="#939393" stroke-width="1.4"/>
<line x1="270.40" y1="155.50" x2="274.40" y2="155.50" stroke="#939393" stroke-width="1.4"/>
<line x1="269.40" y1="158.50" x2="275.40" y2="158.50" stroke="#939393" stroke-width="1.4"/>
<line x1="268.40" y1="160.50" x2="276.40" y2="160.50" stroke="#939393" stroke-width="1.4"/>
<line x1="266.90" y1="164.50" x2="277.90" y2="164.50" stroke="#939393" stroke-width="1.4"/>
<line x1="266.90" y1="166.50" x2="277.90" y2="166.50" stroke="#939393" stroke-width="1.4"/>
<line x1="268.90" y1="169.50" x2="275.90" y2="169.50" stroke="#939393" stroke-width="1.4"/>
<line x1="269.40" y1="171.50" x2="275.40" y2="171.50" stroke="#939393" stroke-width="1.4"/>
<line x1="268.40" y1="173.50" x2="276.40" y2="173.50" stroke="#939393" stroke-width="1.4"/>
<line x1="269.40" y1="175.50" x2="275.40" y2="175.50" stroke="#939393" stroke-width="1.4"/>
<line x1="270.40" y1="178.50" x2="274.40" y2="178.50" stroke="#939393" stroke-width="1.4"/>
<line x1="270.40" y1="180.50" x2="274.40" y2="180.50" stroke="#939393" stroke-width="1.4"/>
<line x1="267.40" y1="181.50" x2="277.40" y2="181.50" stroke="#939393" stroke-width="1.4"/>
<line x1="269.90" y1="183.50" x2="274.90" y2="183.50" stroke="#939393" stroke-width="1.4"/>
<line x1="268.90" y1="186.50" x2="275.90" y2="186.50" stroke="#939393" stroke-width="1.4"/>
<line x1="266.90" y1="188.50" x2="277.90" y2="188.50" stroke="#939393" stroke-width="1.4"/>
<line x1="269.90" y1="190.50" x2="274.90" y2="190.50" stroke="#939393" stroke-width="1.4"/>
<line x1="269.40" y1="192.50" x2="275.40" y2="192.50" stroke="#939393" stroke-width="1.4"/>
<line x1="269.90" y1="195.50" x2="274.90" y2="195.50" stroke="#939393" stroke-width="1.4"/>
<line x1="269.90" y1="197.50" x2="274.90" y2="197.50" stroke="#939393" stroke-width="1.4"/>
<line x1="270.90" y1="199.50" x2="273.90" y2="199.50" stroke="#939393" stroke-width="1.4"/>
<line x1="270.90" y1="201.50" x2="273.90" y2="201.50" stroke="#939393" stroke-width="1.4"/>
<line x1="270.40" y1="204.50" x2="274.40" y2="204.50" stroke="#939393" stroke-width="1.4"/>
<line x1="270.90" y1="206.50" x2="273.90" y2="206.50" stroke="#939393" stroke-width="1.4"/>
<line x1="270.40" y1="208.50" x2="274.40" y2="208.50" stroke="#939393" stroke-width="1.4"/>
<line x1="271.40" y1="210.50" x2="273.40" y2="210.50" stroke="#939393" stroke-width="1.4"/>
<line x1="271.60" y1="213.50" x2="273.20" y2="213.50" stroke="#939393" stroke-width="1.4"/>
<line x1="271.80" y1="218.50" x2="273.00" y2="218.50" stroke="#939393" stroke-width="1.4"/>
<rect x="254.4" y="100.3" width="35.400000000000006" height="62.10000000000001" fill="none" stroke="#7e7e78" stroke-width="1.1"/>
<line x1="254.4" y1="128.8" x2="289.8" y2="128.8" stroke="#6a6a66" stroke-width="1.6" />
<line x1="263.59999999999997" y1="39.9" x2="281.2" y2="39.9" stroke="#878787" stroke-width="1.2" />
<line x1="263.59999999999997" y1="216.2" x2="281.2" y2="216.2" stroke="#878787" stroke-width="1.2" />
<rect x="299.4" y="130.6" width="34.80000000000001" height="57.20000000000002" fill="#e5e0cf" stroke="none"/>
<line x1="316.5" y1="48.2" x2="316.5" y2="130.6" stroke="#505050" stroke-width="1" />
<line x1="316.5" y1="187.8" x2="316.5" y2="215.3" stroke="#505050" stroke-width="1" />
<line x1="314.50" y1="83.50" x2="318.50" y2="83.50" stroke="#939393" stroke-width="1.4"/>
<line x1="315.50" y1="86.50" x2="317.50" y2="86.50" stroke="#939393" stroke-width="1.4"/>
<line x1="315.00" y1="88.50" x2="318.00" y2="88.50" stroke="#939393" stroke-width="1.4"/>
<line x1="315.50" y1="90.50" x2="317.50" y2="90.50" stroke="#939393" stroke-width="1.4"/>
<line x1="315.00" y1="93.50" x2="318.00" y2="93.50" stroke="#939393" stroke-width="1.4"/>
<line x1="315.00" y1="95.50" x2="318.00" y2="95.50" stroke="#939393" stroke-width="1.4"/>
<line x1="314.50" y1="97.50" x2="318.50" y2="97.50" stroke="#939393" stroke-width="1.4"/>
<line x1="315.50" y1="100.50" x2="317.50" y2="100.50" stroke="#939393" stroke-width="1.4"/>
<line x1="314.00" y1="102.50" x2="319.00" y2="102.50" stroke="#939393" stroke-width="1.4"/>
<line x1="315.00" y1="104.50" x2="318.00" y2="104.50" stroke="#939393" stroke-width="1.4"/>
<line x1="315.00" y1="106.50" x2="318.00" y2="106.50" stroke="#939393" stroke-width="1.4"/>
<line x1="314.50" y1="108.50" x2="318.50" y2="108.50" stroke="#939393" stroke-width="1.4"/>
<line x1="314.50" y1="110.50" x2="318.50" y2="110.50" stroke="#939393" stroke-width="1.4"/>
<line x1="314.50" y1="113.50" x2="318.50" y2="113.50" stroke="#939393" stroke-width="1.4"/>
<line x1="315.00" y1="115.50" x2="318.00" y2="115.50" stroke="#939393" stroke-width="1.4"/>
<line x1="315.50" y1="117.50" x2="317.50" y2="117.50" stroke="#939393" stroke-width="1.4"/>
<line x1="315.50" y1="120.50" x2="317.50" y2="120.50" stroke="#939393" stroke-width="1.4"/>
<line x1="315.00" y1="122.50" x2="318.00" y2="122.50" stroke="#939393" stroke-width="1.4"/>
<line x1="315.00" y1="124.50" x2="318.00" y2="124.50" stroke="#939393" stroke-width="1.4"/>
<line x1="314.50" y1="126.50" x2="318.50" y2="126.50" stroke="#939393" stroke-width="1.4"/>
<line x1="314.50" y1="129.50" x2="318.50" y2="129.50" stroke="#939393" stroke-width="1.4"/>
<line x1="312.50" y1="131.50" x2="320.50" y2="131.50" stroke="#939393" stroke-width="1.4"/>
<line x1="313.50" y1="133.50" x2="319.50" y2="133.50" stroke="#939393" stroke-width="1.4"/>
<line x1="314.00" y1="135.50" x2="319.00" y2="135.50" stroke="#939393" stroke-width="1.4"/>
<line x1="313.00" y1="138.50" x2="320.00" y2="138.50" stroke="#939393" stroke-width="1.4"/>
<line x1="313.50" y1="140.50" x2="319.50" y2="140.50" stroke="#939393" stroke-width="1.4"/>
<line x1="313.50" y1="142.50" x2="319.50" y2="142.50" stroke="#939393" stroke-width="1.4"/>
<line x1="313.50" y1="144.50" x2="319.50" y2="144.50" stroke="#939393" stroke-width="1.4"/>
<line x1="313.50" y1="147.50" x2="319.50" y2="147.50" stroke="#939393" stroke-width="1.4"/>
<line x1="312.00" y1="149.50" x2="321.00" y2="149.50" stroke="#939393" stroke-width="1.4"/>
<line x1="312.00" y1="151.50" x2="321.00" y2="151.50" stroke="#939393" stroke-width="1.4"/>
<line x1="312.00" y1="153.50" x2="321.00" y2="153.50" stroke="#939393" stroke-width="1.4"/>
<line x1="312.00" y1="156.50" x2="321.00" y2="156.50" stroke="#939393" stroke-width="1.4"/>
<line x1="312.50" y1="158.50" x2="320.50" y2="158.50" stroke="#939393" stroke-width="1.4"/>
<line x1="313.00" y1="160.50" x2="320.00" y2="160.50" stroke="#939393" stroke-width="1.4"/>
<line x1="313.50" y1="164.50" x2="319.50" y2="164.50" stroke="#939393" stroke-width="1.4"/>
<line x1="313.00" y1="167.50" x2="320.00" y2="167.50" stroke="#939393" stroke-width="1.4"/>
<line x1="312.50" y1="169.50" x2="320.50" y2="169.50" stroke="#939393" stroke-width="1.4"/>
<line x1="313.50" y1="171.50" x2="319.50" y2="171.50" stroke="#939393" stroke-width="1.4"/>
<line x1="313.00" y1="173.50" x2="320.00" y2="173.50" stroke="#939393" stroke-width="1.4"/>
<line x1="312.50" y1="176.50" x2="320.50" y2="176.50" stroke="#939393" stroke-width="1.4"/>
<line x1="313.50" y1="178.50" x2="319.50" y2="178.50" stroke="#939393" stroke-width="1.4"/>
<line x1="313.00" y1="180.50" x2="320.00" y2="180.50" stroke="#939393" stroke-width="1.4"/>
<line x1="313.00" y1="182.50" x2="320.00" y2="182.50" stroke="#939393" stroke-width="1.4"/>
<line x1="313.50" y1="185.50" x2="319.50" y2="185.50" stroke="#939393" stroke-width="1.4"/>
<line x1="312.00" y1="187.50" x2="321.00" y2="187.50" stroke="#939393" stroke-width="1.4"/>
<line x1="312.00" y1="189.50" x2="321.00" y2="189.50" stroke="#939393" stroke-width="1.4"/>
<line x1="311.00" y1="191.50" x2="322.00" y2="191.50" stroke="#939393" stroke-width="1.4"/>
<line x1="312.00" y1="193.50" x2="321.00" y2="193.50" stroke="#939393" stroke-width="1.4"/>
<line x1="313.00" y1="195.50" x2="320.00" y2="195.50" stroke="#939393" stroke-width="1.4"/>
<line x1="308.00" y1="198.50" x2="325.00" y2="198.50" stroke="#939393" stroke-width="1.4"/>
<line x1="312.00" y1="200.50" x2="321.00" y2="200.50" stroke="#939393" stroke-width="1.4"/>
<line x1="311.00" y1="203.50" x2="322.00" y2="203.50" stroke="#939393" stroke-width="1.4"/>
<line x1="311.00" y1="205.50" x2="322.00" y2="205.50" stroke="#939393" stroke-width="1.4"/>
<line x1="313.50" y1="207.50" x2="319.50" y2="207.50" stroke="#939393" stroke-width="1.4"/>
<line x1="313.00" y1="209.50" x2="320.00" y2="209.50" stroke="#939393" stroke-width="1.4"/>
<line x1="314.00" y1="211.50" x2="319.00" y2="211.50" stroke="#939393" stroke-width="1.4"/>
<line x1="312.50" y1="214.50" x2="320.50" y2="214.50" stroke="#939393" stroke-width="1.4"/>
<line x1="315.90" y1="218.50" x2="317.10" y2="218.50" stroke="#939393" stroke-width="1.4"/>
<line x1="315.62" y1="51.50" x2="317.38" y2="51.50" stroke="#939393" stroke-width="1.4"/>
<line x1="315.64" y1="53.50" x2="317.36" y2="53.50" stroke="#939393" stroke-width="1.4"/>
<line x1="315.62" y1="55.50" x2="317.38" y2="55.50" stroke="#939393" stroke-width="1.4"/>
<line x1="315.19" y1="57.50" x2="317.81" y2="57.50" stroke="#939393" stroke-width="1.4"/>
<line x1="314.90" y1="60.50" x2="318.10" y2="60.50" stroke="#939393" stroke-width="1.4"/>
<line x1="314.94" y1="62.50" x2="318.06" y2="62.50" stroke="#939393" stroke-width="1.4"/>
<line x1="315.30" y1="64.50" x2="317.70" y2="64.50" stroke="#939393" stroke-width="1.4"/>
<line x1="315.10" y1="66.50" x2="317.90" y2="66.50" stroke="#939393" stroke-width="1.4"/>
<line x1="314.93" y1="69.50" x2="318.07" y2="69.50" stroke="#939393" stroke-width="1.4"/>
<line x1="315.67" y1="71.50" x2="317.33" y2="71.50" stroke="#939393" stroke-width="1.4"/>
<line x1="315.04" y1="73.50" x2="317.96" y2="73.50" stroke="#939393" stroke-width="1.4"/>
<line x1="314.75" y1="75.50" x2="318.25" y2="75.50" stroke="#939393" stroke-width="1.4"/>
<line x1="314.88" y1="78.50" x2="318.12" y2="78.50" stroke="#939393" stroke-width="1.4"/>
<line x1="314.89" y1="80.50" x2="318.11" y2="80.50" stroke="#939393" stroke-width="1.4"/>
<rect x="299.4" y="130.6" width="34.80000000000001" height="57.20000000000002" fill="none" stroke="#7e7e78" stroke-width="1.1"/>
<line x1="299.4" y1="161.5" x2="334.2" y2="161.5" stroke="#6a6a66" stroke-width="1.6" />
<line x1="307.7" y1="48.2" x2="325.3" y2="48.2" stroke="#878787" stroke-width="1.2" />
<line x1="307.7" y1="215.3" x2="325.3" y2="215.3" stroke="#878787" stroke-width="1.2" />
<circle cx="316.5" cy="41.5" r="2.3" fill="#fff" stroke="#777" stroke-width="0.9"/>
<rect x="219.5" y="18.6" width="9.4" height="3" fill="#fff"/>
<text x="224.2" y="24.9" font-size="7.5" font-weight="bold" font-style="normal" text-anchor="middle" stroke="#111" stroke-width="0.2">A</text>
<rect x="266.90000000000003" y="18.6" width="9.4" height="3" fill="#fff"/>
<text x="271.6" y="24.9" font-size="7.5" font-weight="bold" font-style="normal" text-anchor="middle" stroke="#111" stroke-width="0.2">B</text>
<rect x="310.90000000000003" y="18.6" width="9.4" height="3" fill="#fff"/>
<text x="315.6" y="24.9" font-size="7.5" font-weight="bold" font-style="normal" text-anchor="middle" stroke="#111" stroke-width="0.2">C</text>
<text x="341.6" y="36.8" font-size="7.8" font-weight="normal" font-style="italic" text-anchor="start" stroke="#222" stroke-width="0.08">10</text>
<text x="341.6" y="81.84" font-size="7.8" font-weight="normal" font-style="italic" text-anchor="start" stroke="#222" stroke-width="0.08">8</text>
<text x="341.6" y="126.88" font-size="7.8" font-weight="normal" font-style="italic" text-anchor="start" stroke="#222" stroke-width="0.08">6</text>
<text x="341.6" y="171.92" font-size="7.8" font-weight="normal" font-style="italic" text-anchor="start" stroke="#222" stroke-width="0.08">4</text>
<text x="341.6" y="216.96" font-size="7.8" font-weight="normal" font-style="italic" text-anchor="start" stroke="#222" stroke-width="0.08">2</text>
<text x="0" y="0" font-size="11.2" font-weight="bold" text-anchor="middle" textLength="59" lengthAdjust="spacingAndGlyphs" transform="translate(360.2,145.8) rotate(-90)">iDA Score v1.0</text>
<text x="190.2" y="27.2" font-size="23.5" font-weight="bold" font-style="normal" text-anchor="start" >B</text>
<text x="270.2" y="12.2" font-size="9.8" font-weight="bold" font-style="normal" text-anchor="middle" textLength="47.6" lengthAdjust="spacingAndGlyphs" stroke="#111" stroke-width="0.55">ICM quality</text>
<line x1="225.7" y1="242" x2="322.5" y2="242" stroke="#9a9a9a" stroke-width="1" />
<line x1="225.7" y1="254.2" x2="322.5" y2="254.2" stroke="#9a9a9a" stroke-width="1" />
<text x="272" y="238.4" font-size="7.6" font-weight="normal" font-style="normal" text-anchor="middle" textLength="20.5" lengthAdjust="spacingAndGlyphs" stroke="#111" stroke-width="0.15">P&lt;0.01</text>
<text x="248.7" y="250.9" font-size="7.6" font-weight="normal" font-style="normal" text-anchor="middle" textLength="20.5" lengthAdjust="spacingAndGlyphs" stroke="#111" stroke-width="0.15">P&lt;0.01</text>
<text x="294.5" y="250.9" font-size="7.6" font-weight="normal" font-style="normal" text-anchor="middle" textLength="20.5" lengthAdjust="spacingAndGlyphs" stroke="#111" stroke-width="0.15">P&lt;0.01</text>
<text x="226.2" y="263.8" font-size="7.5" font-weight="normal" font-style="normal" text-anchor="middle" stroke="#111" stroke-width="0.15">N=2107</text>
<text x="226.2" y="272.0" font-size="7.5" font-weight="normal" font-style="normal" text-anchor="middle" stroke="#111" stroke-width="0.15">7.5 ± 1.8</text>
<text x="273" y="263.8" font-size="7.5" font-weight="normal" font-style="normal" text-anchor="middle" stroke="#111" stroke-width="0.15">N=833</text>
<text x="273" y="272.0" font-size="7.5" font-weight="normal" font-style="normal" text-anchor="middle" stroke="#111" stroke-width="0.15">5.6 ± 1.9</text>
<text x="317.5" y="263.8" font-size="7.5" font-weight="normal" font-style="normal" text-anchor="middle" stroke="#111" stroke-width="0.15">N=664</text>
<text x="317.5" y="272.0" font-size="7.5" font-weight="normal" font-style="normal" text-anchor="middle" stroke="#111" stroke-width="0.15">4.4 ± 1.7</text>
<polyline points="394,33 394,274 527.3,274" fill="none" stroke="#ececec" stroke-width="1"/>
<line x1="396" y1="33.6" x2="526.3" y2="33.6" stroke="#e4e4e4" stroke-width="1" />
<line x1="396" y1="78.80000000000001" x2="526.3" y2="78.80000000000001" stroke="#e4e4e4" stroke-width="1" />
<line x1="396" y1="124.0" x2="526.3" y2="124.0" stroke="#e4e4e4" stroke-width="1" />
<line x1="396" y1="169.20000000000002" x2="526.3" y2="169.20000000000002" stroke="#e4e4e4" stroke-width="1" />
<line x1="396" y1="214.4" x2="526.3" y2="214.4" stroke="#e4e4e4" stroke-width="1" />
<line x1="417" y1="23.1" x2="526.3" y2="23.1" stroke="#e2e2e2" stroke-width="1" />
<line x1="437.6" y1="23.1" x2="437.6" y2="272" stroke="#b4b4b4" stroke-width="1" />
<line x1="482" y1="23.1" x2="482" y2="272" stroke="#b4b4b4" stroke-width="1" />
<line x1="526.3" y1="23.1" x2="526.3" y2="272" stroke="#b0b0b0" stroke-width="1.2" />
<rect x="398.2" y="56.4" width="36.0" height="55.800000000000004" fill="#e5e0cf" stroke="none"/>
<line x1="416.4" y1="40.6" x2="416.4" y2="56.4" stroke="#505050" stroke-width="1" />
<line x1="416.4" y1="112.2" x2="416.4" y2="196.3" stroke="#505050" stroke-width="1" />
<line x1="415.40" y1="44.50" x2="417.40" y2="44.50" stroke="#939393" stroke-width="1.4"/>
<line x1="412.10" y1="46.50" x2="420.70" y2="46.50" stroke="#939393" stroke-width="1.4"/>
<line x1="406.00" y1="49.50" x2="426.80" y2="49.50" stroke="#939393" stroke-width="1.4"/>
<line x1="403.00" y1="51.50" x2="429.80" y2="51.50" stroke="#939393" stroke-width="1.4"/>
<line x1="395.40" y1="53.50" x2="437.40" y2="53.50" stroke="#939393" stroke-width="1.4"/>
<line x1="400.40" y1="58.50" x2="432.40" y2="58.50" stroke="#939393" stroke-width="1.4"/>
<line x1="403.90" y1="60.50" x2="428.90" y2="60.50" stroke="#939393" stroke-width="1.4"/>
<line x1="402.40" y1="62.50" x2="430.40" y2="62.50" stroke="#939393" stroke-width="1.4"/>
<line x1="403.90" y1="64.50" x2="428.90" y2="64.50" stroke="#939393" stroke-width="1.4"/>
<line x1="404.90" y1="67.50" x2="427.90" y2="67.50" stroke="#939393" stroke-width="1.4"/>
<line x1="408.90" y1="69.50" x2="423.90" y2="69.50" stroke="#939393" stroke-width="1.4"/>
<line x1="410.40" y1="71.50" x2="422.40" y2="71.50" stroke="#939393" stroke-width="1.4"/>
<line x1="409.90" y1="73.50" x2="422.90" y2="73.50" stroke="#939393" stroke-width="1.4"/>
<line x1="409.40" y1="77.50" x2="423.40" y2="77.50" stroke="#939393" stroke-width="1.4"/>
<line x1="409.40" y1="80.50" x2="423.40" y2="80.50" stroke="#939393" stroke-width="1.4"/>
<line x1="409.90" y1="82.50" x2="422.90" y2="82.50" stroke="#939393" stroke-width="1.4"/>
<line x1="411.40" y1="85.50" x2="421.40" y2="85.50" stroke="#939393" stroke-width="1.4"/>
<line x1="411.90" y1="87.50" x2="420.90" y2="87.50" stroke="#939393" stroke-width="1.4"/>
<line x1="409.40" y1="89.50" x2="423.40" y2="89.50" stroke="#939393" stroke-width="1.4"/>
<line x1="409.90" y1="91.50" x2="422.90" y2="91.50" stroke="#939393" stroke-width="1.4"/>
<line x1="411.90" y1="94.50" x2="420.90" y2="94.50" stroke="#939393" stroke-width="1.4"/>
<line x1="412.40" y1="96.50" x2="420.40" y2="96.50" stroke="#939393" stroke-width="1.4"/>
<line x1="412.90" y1="98.50" x2="419.90" y2="98.50" stroke="#939393" stroke-width="1.4"/>
<line x1="412.90" y1="100.50" x2="419.90" y2="100.50" stroke="#939393" stroke-width="1.4"/>
<line x1="410.90" y1="103.50" x2="421.90" y2="103.50" stroke="#939393" stroke-width="1.4"/>
<line x1="411.90" y1="105.50" x2="420.90" y2="105.50" stroke="#939393" stroke-width="1.4"/>
<line x1="411.90" y1="107.50" x2="420.90" y2="107.50" stroke="#939393" stroke-width="1.4"/>
<line x1="411.90" y1="109.50" x2="420.90" y2="109.50" stroke="#939393" stroke-width="1.4"/>
<line x1="410.90" y1="114.50" x2="421.90" y2="114.50" stroke="#939393" stroke-width="1.4"/>
<line x1="413.40" y1="116.50" x2="419.40" y2="116.50" stroke="#939393" stroke-width="1.4"/>
<line x1="412.40" y1="119.50" x2="420.40" y2="119.50" stroke="#939393" stroke-width="1.4"/>
<line x1="411.90" y1="121.50" x2="420.90" y2="121.50" stroke="#939393" stroke-width="1.4"/>
<line x1="413.90" y1="123.50" x2="418.90" y2="123.50" stroke="#939393" stroke-width="1.4"/>
<line x1="410.90" y1="126.50" x2="421.90" y2="126.50" stroke="#939393" stroke-width="1.4"/>
<line x1="413.90" y1="128.50" x2="418.90" y2="128.50" stroke="#939393" stroke-width="1.4"/>
<line x1="413.40" y1="130.50" x2="419.40" y2="130.50" stroke="#939393" stroke-width="1.4"/>
<line x1="413.90" y1="132.50" x2="418.90" y2="132.50" stroke="#939393" stroke-width="1.4"/>
<line x1="413.40" y1="135.50" x2="419.40" y2="135.50" stroke="#939393" stroke-width="1.4"/>
<line x1="415.40" y1="137.50" x2="417.40" y2="137.50" stroke="#939393" stroke-width="1.4"/>
<line x1="415.40" y1="139.50" x2="417.40" y2="139.50" stroke="#939393" stroke-width="1.4"/>
<line x1="414.40" y1="141.50" x2="418.40" y2="141.50" stroke="#939393" stroke-width="1.4"/>
<line x1="414.40" y1="143.50" x2="418.40" y2="143.50" stroke="#939393" stroke-width="1.4"/>
<line x1="412.90" y1="146.50" x2="419.90" y2="146.50" stroke="#939393" stroke-width="1.4"/>
<line x1="412.90" y1="148.50" x2="419.90" y2="148.50" stroke="#939393" stroke-width="1.4"/>
<line x1="414.40" y1="150.50" x2="418.40" y2="150.50" stroke="#939393" stroke-width="1.4"/>
<line x1="414.90" y1="152.50" x2="417.90" y2="152.50" stroke="#939393" stroke-width="1.4"/>
<line x1="414.90" y1="155.50" x2="417.90" y2="155.50" stroke="#939393" stroke-width="1.4"/>
<line x1="414.40" y1="157.50" x2="418.40" y2="157.50" stroke="#939393" stroke-width="1.4"/>
<line x1="414.40" y1="159.50" x2="418.40" y2="159.50" stroke="#939393" stroke-width="1.4"/>
<line x1="414.90" y1="161.50" x2="417.90" y2="161.50" stroke="#939393" stroke-width="1.4"/>
<line x1="414.40" y1="164.50" x2="418.40" y2="164.50" stroke="#939393" stroke-width="1.4"/>
<line x1="414.40" y1="166.50" x2="418.40" y2="166.50" stroke="#939393" stroke-width="1.4"/>
<line x1="414.90" y1="168.50" x2="417.90" y2="168.50" stroke="#939393" stroke-width="1.4"/>
<line x1="415.40" y1="170.50" x2="417.40" y2="170.50" stroke="#939393" stroke-width="1.4"/>
<line x1="415.40" y1="172.50" x2="417.40" y2="172.50" stroke="#939393" stroke-width="1.4"/>
<line x1="415.40" y1="175.50" x2="417.40" y2="175.50" stroke="#939393" stroke-width="1.4"/>
<line x1="415.40" y1="177.50" x2="417.40" y2="177.50" stroke="#939393" stroke-width="1.4"/>
<line x1="415.40" y1="179.50" x2="417.40" y2="179.50" stroke="#939393" stroke-width="1.4"/>
<line x1="414.40" y1="182.50" x2="418.40" y2="182.50" stroke="#939393" stroke-width="1.4"/>
<line x1="414.90" y1="184.50" x2="417.90" y2="184.50" stroke="#939393" stroke-width="1.4"/>
<line x1="415.40" y1="186.50" x2="417.40" y2="186.50" stroke="#939393" stroke-width="1.4"/>
<line x1="415.40" y1="188.50" x2="417.40" y2="188.50" stroke="#939393" stroke-width="1.4"/>
<line x1="415.40" y1="191.50" x2="417.40" y2="191.50" stroke="#939393" stroke-width="1.4"/>
<line x1="415.40" y1="193.50" x2="417.40" y2="193.50" stroke="#939393" stroke-width="1.4"/>
<rect x="398.2" y="56.4" width="36.0" height="55.800000000000004" fill="none" stroke="#7e7e78" stroke-width="1.1"/>
<line x1="398.2" y1="76.2" x2="434.2" y2="76.2" stroke="#6a6a66" stroke-width="1.6" />
<line x1="407.7" y1="40.6" x2="425.09999999999997" y2="40.6" stroke="#878787" stroke-width="1.2" />
<line x1="407.7" y1="196.3" x2="425.09999999999997" y2="196.3" stroke="#878787" stroke-width="1.2" />
<circle cx="416.4" cy="198.00" r="2.2" fill="#c8c8c8" stroke="#5a5a5a" stroke-width="0.8"/>
<circle cx="416.4" cy="200.26" r="2.2" fill="#c8c8c8" stroke="#5a5a5a" stroke-width="0.8"/>
<circle cx="416.4" cy="202.52" r="2.2" fill="#c8c8c8" stroke="#5a5a5a" stroke-width="0.8"/>
<circle cx="416.4" cy="204.78" r="2.2" fill="#c8c8c8" stroke="#5a5a5a" stroke-width="0.8"/>
<circle cx="416.4" cy="207.04" r="2.2" fill="#c8c8c8" stroke="#5a5a5a" stroke-width="0.8"/>
<circle cx="416.4" cy="209.30" r="2.2" fill="#c8c8c8" stroke="#5a5a5a" stroke-width="0.8"/>
<circle cx="416.4" cy="211.56" r="2.2" fill="#c8c8c8" stroke="#5a5a5a" stroke-width="0.8"/>
<circle cx="416.4" cy="213.82" r="2.2" fill="#c8c8c8" stroke="#5a5a5a" stroke-width="0.8"/>
<circle cx="416.4" cy="216.08" r="2.2" fill="#c8c8c8" stroke="#5a5a5a" stroke-width="0.8"/>
<circle cx="416.4" cy="218.34" r="2.2" fill="#c8c8c8" stroke="#5a5a5a" stroke-width="0.8"/>
<circle cx="416.4" cy="220.60" r="2.2" fill="#c8c8c8" stroke="#5a5a5a" stroke-width="0.8"/>
<circle cx="416.4" cy="222.86" r="2.2" fill="#c8c8c8" stroke="#5a5a5a" stroke-width="0.8"/>
<line x1="414.31" y1="198.00" x2="418.49" y2="198.00" stroke="#444" stroke-width="1"/>
<line x1="414.41" y1="202.52" x2="418.39" y2="202.52" stroke="#444" stroke-width="1"/>
<line x1="414.74" y1="209.30" x2="418.06" y2="209.30" stroke="#444" stroke-width="1"/>
<line x1="415.38" y1="211.56" x2="417.42" y2="211.56" stroke="#444" stroke-width="1"/>
<line x1="414.35" y1="222.86" x2="418.45" y2="222.86" stroke="#444" stroke-width="1"/>
<rect x="443.3" y="94.7" width="34.89999999999998" height="65.3" fill="#e5e0cf" stroke="none"/>
<line x1="460.9" y1="43.2" x2="460.9" y2="94.7" stroke="#505050" stroke-width="1" />
<line x1="460.9" y1="160" x2="460.9" y2="216.6" stroke="#505050" stroke-width="1" />
<line x1="460.10" y1="49.50" x2="461.70" y2="49.50" stroke="#939393" stroke-width="1.4"/>
<line x1="458.90" y1="51.50" x2="462.90" y2="51.50" stroke="#939393" stroke-width="1.4"/>
<line x1="458.90" y1="53.50" x2="462.90" y2="53.50" stroke="#939393" stroke-width="1.4"/>
<line x1="458.90" y1="56.50" x2="462.90" y2="56.50" stroke="#939393" stroke-width="1.4"/>
<line x1="454.90" y1="58.50" x2="466.90" y2="58.50" stroke="#939393" stroke-width="1.4"/>
<line x1="457.40" y1="60.50" x2="464.40" y2="60.50" stroke="#939393" stroke-width="1.4"/>
<line x1="455.40" y1="62.50" x2="466.40" y2="62.50" stroke="#939393" stroke-width="1.4"/>
<line x1="457.90" y1="65.50" x2="463.90" y2="65.50" stroke="#939393" stroke-width="1.4"/>
<line x1="457.40" y1="67.50" x2="464.40" y2="67.50" stroke="#939393" stroke-width="1.4"/>
<line x1="456.40" y1="69.50" x2="465.40" y2="69.50" stroke="#939393" stroke-width="1.4"/>
<line x1="457.40" y1="71.50" x2="464.40" y2="71.50" stroke="#939393" stroke-width="1.4"/>
<line x1="459.40" y1="74.50" x2="462.40" y2="74.50" stroke="#939393" stroke-width="1.4"/>
<line x1="457.90" y1="76.50" x2="463.90" y2="76.50" stroke="#939393" stroke-width="1.4"/>
<line x1="456.90" y1="78.50" x2="464.90" y2="78.50" stroke="#939393" stroke-width="1.4"/>
<line x1="457.90" y1="80.50" x2="463.90" y2="80.50" stroke="#939393" stroke-width="1.4"/>
<line x1="457.90" y1="83.50" x2="463.90" y2="83.50" stroke="#939393" stroke-width="1.4"/>
<line x1="456.90" y1="85.50" x2="464.90" y2="85.50" stroke="#939393" stroke-width="1.4"/>
<line x1="457.90" y1="87.50" x2="463.90" y2="87.50" stroke="#939393" stroke-width="1.4"/>
<line x1="457.40" y1="89.50" x2="464.40" y2="89.50" stroke="#939393" stroke-width="1.4"/>
<line x1="457.40" y1="92.50" x2="464.40" y2="92.50" stroke="#939393" stroke-width="1.4"/>
<line x1="457.90" y1="94.50" x2="463.90" y2="94.50" stroke="#939393" stroke-width="1.4"/>
<line x1="456.90" y1="96.50" x2="464.90" y2="96.50" stroke="#939393" stroke-width="1.4"/>
<line x1="457.40" y1="99.50" x2="464.40" y2="99.50" stroke="#939393" stroke-width="1.4"/>
<line x1="457.40" y1="100.50" x2="464.40" y2="100.50" stroke="#939393" stroke-width="1.4"/>
<line x1="457.90" y1="101.50" x2="463.90" y2="101.50" stroke="#939393" stroke-width="1.4"/>
<line x1="457.90" y1="103.50" x2="463.90" y2="103.50" stroke="#939393" stroke-width="1.4"/>
<line x1="452.90" y1="105.50" x2="468.90" y2="105.50" stroke="#939393" stroke-width="1.4"/>
<line x1="453.90" y1="108.50" x2="467.90" y2="108.50" stroke="#939393" stroke-width="1.4"/>
<line x1="454.90" y1="110.50" x2="466.90" y2="110.50" stroke="#939393" stroke-width="1.4"/>
<line x1="454.40" y1="112.50" x2="467.40" y2="112.50" stroke="#939393" stroke-width="1.4"/>
<line x1="453.90" y1="114.50" x2="467.90" y2="114.50" stroke="#939393" stroke-width="1.4"/>
<line x1="454.90" y1="117.50" x2="466.90" y2="117.50" stroke="#939393" stroke-width="1.4"/>
<line x1="454.40" y1="119.50" x2="467.40" y2="119.50" stroke="#939393" stroke-width="1.4"/>
<line x1="454.90" y1="121.50" x2="466.90" y2="121.50" stroke="#939393" stroke-width="1.4"/>
<line x1="454.40" y1="123.50" x2="467.40" y2="123.50" stroke="#939393" stroke-width="1.4"/>
<line x1="453.90" y1="128.50" x2="467.90" y2="128.50" stroke="#939393" stroke-width="1.4"/>
<line x1="455.40" y1="130.50" x2="466.40" y2="130.50" stroke="#939393" stroke-width="1.4"/>
<line x1="455.40" y1="132.50" x2="466.40" y2="132.50" stroke="#939393" stroke-width="1.4"/>
<line x1="455.90" y1="135.50" x2="465.90" y2="135.50" stroke="#939393" stroke-width="1.4"/>
<line x1="453.40" y1="137.50" x2="468.40" y2="137.50" stroke="#939393" stroke-width="1.4"/>
<line x1="455.90" y1="139.50" x2="465.90" y2="139.50" stroke="#939393" stroke-width="1.4"/>
<line x1="456.40" y1="141.50" x2="465.40" y2="141.50" stroke="#939393" stroke-width="1.4"/>
<line x1="455.40" y1="144.50" x2="466.40" y2="144.50" stroke="#939393" stroke-width="1.4"/>
<line x1="455.90" y1="146.50" x2="465.90" y2="146.50" stroke="#939393" stroke-width="1.4"/>
<line x1="455.90" y1="148.50" x2="465.90" y2="148.50" stroke="#939393" stroke-width="1.4"/>
<line x1="456.40" y1="150.50" x2="465.40" y2="150.50" stroke="#939393" stroke-width="1.4"/>
<line x1="456.40" y1="153.50" x2="465.40" y2="153.50" stroke="#939393" stroke-width="1.4"/>
<line x1="456.40" y1="154.50" x2="465.40" y2="154.50" stroke="#939393" stroke-width="1.4"/>
<line x1="454.90" y1="155.50" x2="466.90" y2="155.50" stroke="#939393" stroke-width="1.4"/>
<line x1="457.40" y1="157.50" x2="464.40" y2="157.50" stroke="#939393" stroke-width="1.4"/>
<line x1="458.40" y1="162.50" x2="463.40" y2="162.50" stroke="#939393" stroke-width="1.4"/>
<line x1="457.90" y1="164.50" x2="463.90" y2="164.50" stroke="#939393" stroke-width="1.4"/>
<line x1="454.40" y1="166.50" x2="467.40" y2="166.50" stroke="#939393" stroke-width="1.4"/>
<line x1="456.90" y1="168.50" x2="464.90" y2="168.50" stroke="#939393" stroke-width="1.4"/>
<line x1="457.40" y1="170.50" x2="464.40" y2="170.50" stroke="#939393" stroke-width="1.4"/>
<line x1="458.90" y1="173.50" x2="462.90" y2="173.50" stroke="#939393" stroke-width="1.4"/>
<line x1="458.90" y1="175.50" x2="462.90" y2="175.50" stroke="#939393" stroke-width="1.4"/>
<line x1="457.90" y1="177.50" x2="463.90" y2="177.50" stroke="#939393" stroke-width="1.4"/>
<line x1="458.40" y1="179.50" x2="463.40" y2="179.50" stroke="#939393" stroke-width="1.4"/>
<line x1="458.40" y1="182.50" x2="463.40" y2="182.50" stroke="#939393" stroke-width="1.4"/>
<line x1="457.40" y1="182.50" x2="464.40" y2="182.50" stroke="#939393" stroke-width="1.4"/>
<line x1="458.40" y1="184.50" x2="463.40" y2="184.50" stroke="#939393" stroke-width="1.4"/>
<line x1="457.90" y1="186.50" x2="463.90" y2="186.50" stroke="#939393" stroke-width="1.4"/>
<line x1="457.40" y1="189.50" x2="464.40" y2="189.50" stroke="#939393" stroke-width="1.4"/>
<line x1="458.90" y1="191.50" x2="462.90" y2="191.50" stroke="#939393" stroke-width="1.4"/>
<line x1="459.40" y1="193.50" x2="462.40" y2="193.50" stroke="#939393" stroke-width="1.4"/>
<line x1="458.40" y1="195.50" x2="463.40" y2="195.50" stroke="#939393" stroke-width="1.4"/>
<line x1="459.40" y1="197.50" x2="462.40" y2="197.50" stroke="#939393" stroke-width="1.4"/>
<line x1="459.40" y1="200.50" x2="462.40" y2="200.50" stroke="#939393" stroke-width="1.4"/>
<line x1="459.40" y1="202.50" x2="462.40" y2="202.50" stroke="#939393" stroke-width="1.4"/>
<line x1="458.40" y1="204.50" x2="463.40" y2="204.50" stroke="#939393" stroke-width="1.4"/>
<line x1="457.90" y1="206.50" x2="463.90" y2="206.50" stroke="#939393" stroke-width="1.4"/>
<line x1="459.40" y1="209.50" x2="462.40" y2="209.50" stroke="#939393" stroke-width="1.4"/>
<line x1="459.90" y1="211.50" x2="461.90" y2="211.50" stroke="#939393" stroke-width="1.4"/>
<line x1="459.90" y1="213.50" x2="461.90" y2="213.50" stroke="#939393" stroke-width="1.4"/>
<line x1="460.30" y1="218.50" x2="461.50" y2="218.50" stroke="#939393" stroke-width="1.4"/>
<rect x="443.3" y="94.7" width="34.89999999999998" height="65.3" fill="none" stroke="#7e7e78" stroke-width="1.1"/>
<line x1="443.3" y1="126.5" x2="478.2" y2="126.5" stroke="#6a6a66" stroke-width="1.6" />
<line x1="451.9" y1="43.2" x2="469.9" y2="43.2" stroke="#878787" stroke-width="1.2" />
<line x1="451.9" y1="216.6" x2="469.9" y2="216.6" stroke="#878787" stroke-width="1.2" />
<rect x="487.5" y="139.4" width="35.299999999999955" height="52.29999999999998" fill="#e5e0cf" stroke="none"/>
<line x1="505.1" y1="63.4" x2="505.1" y2="139.4" stroke="#505050" stroke-width="1" />
<line x1="505.1" y1="191.7" x2="505.1" y2="218.2" stroke="#505050" stroke-width="1" />
<line x1="503.60" y1="99.50" x2="506.60" y2="99.50" stroke="#939393" stroke-width="1.4"/>
<line x1="503.60" y1="101.50" x2="506.60" y2="101.50" stroke="#939393" stroke-width="1.4"/>
<line x1="504.10" y1="104.50" x2="506.10" y2="104.50" stroke="#939393" stroke-width="1.4"/>
<line x1="502.60" y1="107.50" x2="507.60" y2="107.50" stroke="#939393" stroke-width="1.4"/>
<line x1="503.10" y1="109.50" x2="507.10" y2="109.50" stroke="#939393" stroke-width="1.4"/>
<line x1="502.60" y1="112.50" x2="507.60" y2="112.50" stroke="#939393" stroke-width="1.4"/>
<line x1="503.10" y1="114.50" x2="507.10" y2="114.50" stroke="#939393" stroke-width="1.4"/>
<line x1="503.10" y1="116.50" x2="507.10" y2="116.50" stroke="#939393" stroke-width="1.4"/>
<line x1="503.60" y1="119.50" x2="506.60" y2="119.50" stroke="#939393" stroke-width="1.4"/>
<line x1="502.60" y1="121.50" x2="507.60" y2="121.50" stroke="#939393" stroke-width="1.4"/>
<line x1="503.60" y1="123.50" x2="506.60" y2="123.50" stroke="#939393" stroke-width="1.4"/>
<line x1="503.10" y1="126.50" x2="507.10" y2="126.50" stroke="#939393" stroke-width="1.4"/>
<line x1="503.10" y1="128.50" x2="507.10" y2="128.50" stroke="#939393" stroke-width="1.4"/>
<line x1="502.10" y1="130.50" x2="508.10" y2="130.50" stroke="#939393" stroke-width="1.4"/>
<line x1="501.10" y1="133.50" x2="509.10" y2="133.50" stroke="#939393" stroke-width="1.4"/>
<line x1="500.60" y1="135.50" x2="509.60" y2="135.50" stroke="#939393" stroke-width="1.4"/>
<line x1="501.60" y1="137.50" x2="508.60" y2="137.50" stroke="#939393" stroke-width="1.4"/>
<line x1="501.60" y1="139.50" x2="508.60" y2="139.50" stroke="#939393" stroke-width="1.4"/>
<line x1="501.60" y1="142.50" x2="508.60" y2="142.50" stroke="#939393" stroke-width="1.4"/>
<line x1="501.60" y1="144.50" x2="508.60" y2="144.50" stroke="#939393" stroke-width="1.4"/>
<line x1="502.10" y1="146.50" x2="508.10" y2="146.50" stroke="#939393" stroke-width="1.4"/>
<line x1="502.60" y1="148.50" x2="507.60" y2="148.50" stroke="#939393" stroke-width="1.4"/>
<line x1="500.10" y1="150.50" x2="510.10" y2="150.50" stroke="#939393" stroke-width="1.4"/>
<line x1="501.10" y1="152.50" x2="509.10" y2="152.50" stroke="#939393" stroke-width="1.4"/>
<line x1="500.10" y1="155.50" x2="510.10" y2="155.50" stroke="#939393" stroke-width="1.4"/>
<line x1="500.60" y1="157.50" x2="509.60" y2="157.50" stroke="#939393" stroke-width="1.4"/>
<line x1="500.10" y1="159.50" x2="510.10" y2="159.50" stroke="#939393" stroke-width="1.4"/>
<line x1="500.60" y1="162.50" x2="509.60" y2="162.50" stroke="#939393" stroke-width="1.4"/>
<line x1="500.60" y1="164.50" x2="509.60" y2="164.50" stroke="#939393" stroke-width="1.4"/>
<line x1="500.10" y1="168.50" x2="510.10" y2="168.50" stroke="#939393" stroke-width="1.4"/>
<line x1="500.60" y1="171.50" x2="509.60" y2="171.50" stroke="#939393" stroke-width="1.4"/>
<line x1="501.60" y1="173.50" x2="508.60" y2="173.50" stroke="#939393" stroke-width="1.4"/>
<line x1="501.60" y1="175.50" x2="508.60" y2="175.50" stroke="#939393" stroke-width="1.4"/>
<line x1="501.10" y1="177.50" x2="509.10" y2="177.50" stroke="#939393" stroke-width="1.4"/>
<line x1="501.10" y1="179.50" x2="509.10" y2="179.50" stroke="#939393" stroke-width="1.4"/>
<line x1="501.10" y1="182.50" x2="509.10" y2="182.50" stroke="#939393" stroke-width="1.4"/>
<line x1="500.60" y1="184.50" x2="509.60" y2="184.50" stroke="#939393" stroke-width="1.4"/>
<line x1="501.10" y1="186.50" x2="509.10" y2="186.50" stroke="#939393" stroke-width="1.4"/>
<line x1="498.60" y1="189.50" x2="511.60" y2="189.50" stroke="#939393" stroke-width="1.4"/>
<line x1="498.10" y1="192.50" x2="512.10" y2="192.50" stroke="#939393" stroke-width="1.4"/>
<line x1="499.60" y1="194.50" x2="510.60" y2="194.50" stroke="#939393" stroke-width="1.4"/>
<line x1="499.10" y1="197.50" x2="511.10" y2="197.50" stroke="#939393" stroke-width="1.4"/>
<line x1="498.10" y1="199.50" x2="512.10" y2="199.50" stroke="#939393" stroke-width="1.4"/>
<line x1="499.60" y1="201.50" x2="510.60" y2="201.50" stroke="#939393" stroke-width="1.4"/>
<line x1="499.60" y1="203.50" x2="510.60" y2="203.50" stroke="#939393" stroke-width="1.4"/>
<line x1="501.10" y1="206.50" x2="509.10" y2="206.50" stroke="#939393" stroke-width="1.4"/>
<line x1="501.60" y1="208.50" x2="508.60" y2="208.50" stroke="#939393" stroke-width="1.4"/>
<line x1="502.10" y1="210.50" x2="508.10" y2="210.50" stroke="#939393" stroke-width="1.4"/>
<line x1="502.10" y1="213.50" x2="508.10" y2="213.50" stroke="#939393" stroke-width="1.4"/>
<line x1="502.60" y1="215.50" x2="507.60" y2="215.50" stroke="#939393" stroke-width="1.4"/>
<line x1="504.50" y1="220.50" x2="505.70" y2="220.50" stroke="#939393" stroke-width="1.4"/>
<line x1="504.13" y1="66.50" x2="506.07" y2="66.50" stroke="#939393" stroke-width="1.4"/>
<line x1="504.51" y1="68.50" x2="505.69" y2="68.50" stroke="#939393" stroke-width="1.4"/>
<line x1="504.46" y1="70.50" x2="505.74" y2="70.50" stroke="#939393" stroke-width="1.4"/>
<line x1="504.42" y1="72.50" x2="505.78" y2="72.50" stroke="#939393" stroke-width="1.4"/>
<line x1="504.44" y1="75.50" x2="505.76" y2="75.50" stroke="#939393" stroke-width="1.4"/>
<line x1="504.17" y1="77.50" x2="506.03" y2="77.50" stroke="#939393" stroke-width="1.4"/>
<line x1="504.39" y1="79.50" x2="505.81" y2="79.50" stroke="#939393" stroke-width="1.4"/>
<line x1="504.25" y1="81.50" x2="505.95" y2="81.50" stroke="#939393" stroke-width="1.4"/>
<line x1="504.46" y1="84.50" x2="505.74" y2="84.50" stroke="#939393" stroke-width="1.4"/>
<line x1="503.82" y1="86.50" x2="506.38" y2="86.50" stroke="#939393" stroke-width="1.4"/>
<line x1="504.25" y1="88.50" x2="505.95" y2="88.50" stroke="#939393" stroke-width="1.4"/>
<line x1="504.14" y1="90.50" x2="506.06" y2="90.50" stroke="#939393" stroke-width="1.4"/>
<line x1="504.01" y1="93.50" x2="506.19" y2="93.50" stroke="#939393" stroke-width="1.4"/>
<line x1="503.71" y1="95.50" x2="506.49" y2="95.50" stroke="#939393" stroke-width="1.4"/>
<rect x="487.5" y="139.4" width="35.299999999999955" height="52.29999999999998" fill="none" stroke="#7e7e78" stroke-width="1.1"/>
<line x1="487.5" y1="166.7" x2="522.8" y2="166.7" stroke="#6a6a66" stroke-width="1.6" />
<line x1="496.40000000000003" y1="63.4" x2="513.8000000000001" y2="63.4" stroke="#878787" stroke-width="1.2" />
<line x1="496.40000000000003" y1="218.2" x2="513.8000000000001" y2="218.2" stroke="#878787" stroke-width="1.2" />
<circle cx="505.1" cy="49.60" r="2.2" fill="#c8c8c8" stroke="#5a5a5a" stroke-width="0.8"/>
<circle cx="505.1" cy="51.86" r="2.2" fill="#c8c8c8" stroke="#5a5a5a" stroke-width="0.8"/>
<circle cx="505.1" cy="54.12" r="2.2" fill="#c8c8c8" stroke="#5a5a5a" stroke-width="0.8"/>
<circle cx="505.1" cy="56.38" r="2.2" fill="#c8c8c8" stroke="#5a5a5a" stroke-width="0.8"/>
<circle cx="505.1" cy="58.64" r="2.2" fill="#c8c8c8" stroke="#5a5a5a" stroke-width="0.8"/>
<circle cx="505.1" cy="60.90" r="2.2" fill="#c8c8c8" stroke="#5a5a5a" stroke-width="0.8"/>
<line x1="503.88" y1="49.60" x2="506.32" y2="49.60" stroke="#444" stroke-width="1"/>
<line x1="503.14" y1="51.86" x2="507.06" y2="51.86" stroke="#444" stroke-width="1"/>
<line x1="503.53" y1="54.12" x2="506.67" y2="54.12" stroke="#444" stroke-width="1"/>
<line x1="503.48" y1="60.90" x2="506.72" y2="60.90" stroke="#444" stroke-width="1"/>
<rect x="408.8" y="21.6" width="9.4" height="3" fill="#fff"/>
<text x="413.5" y="25.0" font-size="7.5" font-weight="bold" font-style="normal" text-anchor="middle" stroke="#111" stroke-width="0.2">A</text>
<rect x="457.1" y="21.6" width="9.4" height="3" fill="#fff"/>
<text x="461.8" y="25.0" font-size="7.5" font-weight="bold" font-style="normal" text-anchor="middle" stroke="#111" stroke-width="0.2">B</text>
<rect x="501.3" y="21.6" width="9.4" height="3" fill="#fff"/>
<text x="506" y="25.0" font-size="7.5" font-weight="bold" font-style="normal" text-anchor="middle" stroke="#111" stroke-width="0.2">C</text>
<text x="531.1" y="37.4" font-size="7.8" font-weight="normal" font-style="italic" text-anchor="start" stroke="#222" stroke-width="0.08">10</text>
<text x="531.1" y="82.6" font-size="7.8" font-weight="normal" font-style="italic" text-anchor="start" stroke="#222" stroke-width="0.08">8</text>
<text x="531.1" y="127.8" font-size="7.8" font-weight="normal" font-style="italic" text-anchor="start" stroke="#222" stroke-width="0.08">6</text>
<text x="531.1" y="173.0" font-size="7.8" font-weight="normal" font-style="italic" text-anchor="start" stroke="#222" stroke-width="0.08">4</text>
<text x="531.1" y="218.2" font-size="7.8" font-weight="normal" font-style="italic" text-anchor="start" stroke="#222" stroke-width="0.08">2</text>
<text x="0" y="0" font-size="11.2" font-weight="bold" text-anchor="middle" textLength="59" lengthAdjust="spacingAndGlyphs" transform="translate(548.0,147.2) rotate(-90)">iDA Score v1.0</text>
<text x="386.8" y="28.2" font-size="23.8" font-weight="bold" font-style="normal" text-anchor="start" >C</text>
<text x="457" y="11.8" font-size="9.8" font-weight="bold" font-style="normal" text-anchor="middle" textLength="42.5" lengthAdjust="spacingAndGlyphs" stroke="#111" stroke-width="0.55">TE quality</text>
<line x1="414.5" y1="242" x2="511.7" y2="242" stroke="#9a9a9a" stroke-width="1" />
<line x1="414.5" y1="254.2" x2="511.7" y2="254.2" stroke="#9a9a9a" stroke-width="1" />
<text x="460.3" y="238.4" font-size="7.6" font-weight="normal" font-style="normal" text-anchor="middle" textLength="20.5" lengthAdjust="spacingAndGlyphs" stroke="#111" stroke-width="0.15">P&lt;0.01</text>
<text x="437" y="250.9" font-size="7.6" font-weight="normal" font-style="normal" text-anchor="middle" textLength="20.5" lengthAdjust="spacingAndGlyphs" stroke="#111" stroke-width="0.15">P&lt;0.01</text>
<text x="482.8" y="250.9" font-size="7.6" font-weight="normal" font-style="normal" text-anchor="middle" textLength="20.5" lengthAdjust="spacingAndGlyphs" stroke="#111" stroke-width="0.15">P&lt;0.01</text>
<text x="414.6" y="263.8" font-size="7.5" font-weight="normal" font-style="normal" text-anchor="middle" stroke="#111" stroke-width="0.15">N=1988</text>
<text x="414.6" y="272.0" font-size="7.5" font-weight="normal" font-style="normal" text-anchor="middle" stroke="#111" stroke-width="0.15">7.5 ± 1.8</text>
<text x="461.4" y="263.8" font-size="7.5" font-weight="normal" font-style="normal" text-anchor="middle" stroke="#111" stroke-width="0.15">N=951</text>
<text x="461.4" y="272.0" font-size="7.5" font-weight="normal" font-style="normal" text-anchor="middle" stroke="#111" stroke-width="0.15">5.9 ± 1.9</text>
<text x="505.9" y="263.8" font-size="7.5" font-weight="normal" font-style="normal" text-anchor="middle" stroke="#111" stroke-width="0.15">N=665</text>
<text x="505.9" y="272.0" font-size="7.5" font-weight="normal" font-style="normal" text-anchor="middle" stroke="#111" stroke-width="0.15">4.3 ± 1.6</text>
</svg>
</body></html>
